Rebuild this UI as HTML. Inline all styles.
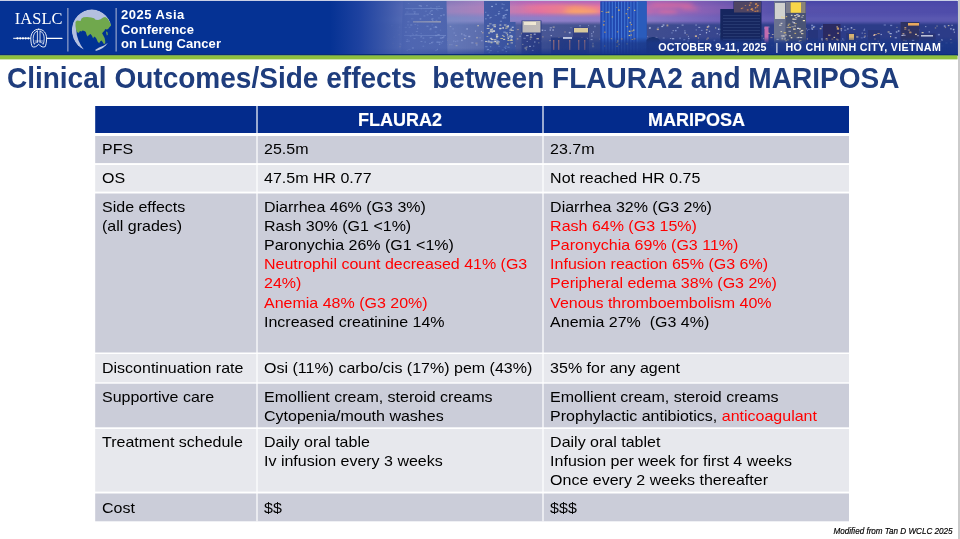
<!DOCTYPE html>
<html><head><meta charset="utf-8">
<style>
html,body{margin:0;padding:0;background:#fff;}
body{width:960px;height:539px;position:relative;overflow:hidden;font-family:"Liberation Sans",Arial,sans-serif;}
.bt{position:absolute;left:121px;font-weight:bold;font-size:13px;line-height:15px;color:#fff;white-space:pre;}
.dt{position:absolute;top:40.6px;font-weight:bold;font-size:10.7px;line-height:13px;color:#fff;white-space:pre;}
#title{position:absolute;left:6.9px;top:61.8px;transform:scaleY(1.05);transform-origin:0 26.5px;font-weight:bold;font-size:28.04px;line-height:34px;color:#1f3d7d;white-space:pre;}
.t{position:absolute;font-size:16px;line-height:19.794px;color:#000;white-space:pre;transform:scaleY(0.97);transform-origin:0 0;}
.h{position:absolute;top:110px;color:#fff;font-weight:bold;font-size:18px;text-align:center;line-height:21px;-webkit-text-stroke:0.2px #fff;}
.r{color:#f00;}
#foot{position:absolute;right:7.3px;top:525.2px;font-size:9.5px;line-height:12px;font-style:italic;color:#000;white-space:pre;transform:scaleX(0.853);transform-origin:100% 0;-webkit-text-stroke:0.2px #000;}
#redge{position:absolute;left:958.3px;top:0;width:1.7px;height:539px;background:#cbcbcb;}
</style></head><body>
<svg width="960" height="60" viewBox="0 0 960 60" style="position:absolute;left:0;top:0">
<defs>
<linearGradient id="gTop" x1="330" x2="958" y1="0" y2="0" gradientUnits="userSpaceOnUse"><stop offset="0.0000" stop-color="#053294"/><stop offset="0.0478" stop-color="#2244a0"/><stop offset="0.1115" stop-color="#4a5eb0"/><stop offset="0.1911" stop-color="#a078b8"/><stop offset="0.2389" stop-color="#b080c0"/><stop offset="0.3025" stop-color="#b868b8"/><stop offset="0.4299" stop-color="#b868b8"/><stop offset="0.5255" stop-color="#9a62b8"/><stop offset="0.6210" stop-color="#7058b0"/><stop offset="0.7006" stop-color="#5550aa"/><stop offset="0.7643" stop-color="#4a48a8"/><stop offset="1.0000" stop-color="#4a48a8"/></linearGradient>
<linearGradient id="gPink" x1="330" x2="958" y1="0" y2="0" gradientUnits="userSpaceOnUse"><stop offset="0.0000" stop-color="#053294"/><stop offset="0.0478" stop-color="#2446a2"/><stop offset="0.1115" stop-color="#5868b4"/><stop offset="0.1911" stop-color="#b888c0"/><stop offset="0.2707" stop-color="#c880b8"/><stop offset="0.3344" stop-color="#e070a0"/><stop offset="0.3901" stop-color="#f08c7c"/><stop offset="0.4299" stop-color="#e878a0"/><stop offset="0.4697" stop-color="#d470a8"/><stop offset="0.5255" stop-color="#a868b4"/><stop offset="0.5892" stop-color="#8a62b6"/><stop offset="0.6290" stop-color="#7a5cb2"/><stop offset="0.7006" stop-color="#5852ac"/><stop offset="1.0000" stop-color="#4e4caa"/></linearGradient>
<linearGradient id="gLil" x1="330" x2="958" y1="0" y2="0" gradientUnits="userSpaceOnUse"><stop offset="0.0000" stop-color="#053294"/><stop offset="0.0478" stop-color="#2648a2"/><stop offset="0.1115" stop-color="#5a70b8"/><stop offset="0.1911" stop-color="#8890c8"/><stop offset="0.3025" stop-color="#9080c8"/><stop offset="0.5096" stop-color="#8878c4"/><stop offset="0.6210" stop-color="#7060b8"/><stop offset="0.7484" stop-color="#5a58b0"/><stop offset="1.0000" stop-color="#5a58b0"/></linearGradient>
<linearGradient id="gCity" x1="330" x2="958" y1="0" y2="0" gradientUnits="userSpaceOnUse"><stop offset="0.0000" stop-color="#053294"/><stop offset="0.0478" stop-color="#2648a2"/><stop offset="0.1115" stop-color="#4c64ae"/><stop offset="0.1911" stop-color="#6074b4"/><stop offset="0.3025" stop-color="#4a5898"/><stop offset="0.4299" stop-color="#44528e"/><stop offset="0.5892" stop-color="#3a4890"/><stop offset="0.7484" stop-color="#2c3c88"/><stop offset="1.0000" stop-color="#2c3c88"/></linearGradient>
<linearGradient id="mPinkG" x1="0" x2="0" y1="0" y2="55" gradientUnits="userSpaceOnUse"><stop offset="0.0364" stop-color="#fff" stop-opacity="0"/><stop offset="0.1273" stop-color="#fff" stop-opacity="1"/><stop offset="0.2364" stop-color="#fff" stop-opacity="1"/><stop offset="0.3273" stop-color="#fff" stop-opacity="0"/></linearGradient>
<linearGradient id="mLilG" x1="0" x2="0" y1="0" y2="55" gradientUnits="userSpaceOnUse"><stop offset="0.2182" stop-color="#fff" stop-opacity="0"/><stop offset="0.3273" stop-color="#fff" stop-opacity="1"/><stop offset="1.0000" stop-color="#fff" stop-opacity="1"/></linearGradient>
<linearGradient id="mCityG" x1="0" x2="0" y1="0" y2="55" gradientUnits="userSpaceOnUse"><stop offset="0.3818" stop-color="#fff" stop-opacity="0"/><stop offset="0.4545" stop-color="#fff" stop-opacity="1"/><stop offset="1.0000" stop-color="#fff" stop-opacity="1"/></linearGradient>
<mask id="mPink" maskUnits="userSpaceOnUse" x="0" y="0" width="960" height="60"><rect x="0" y="0" width="960" height="60" fill="url(#mPinkG)"/></mask>
<mask id="mLil" maskUnits="userSpaceOnUse" x="0" y="0" width="960" height="60"><rect x="0" y="0" width="960" height="60" fill="url(#mLilG)"/></mask>
<mask id="mCity" maskUnits="userSpaceOnUse" x="0" y="0" width="960" height="60"><rect x="0" y="0" width="960" height="60" fill="url(#mCityG)"/></mask>
<linearGradient id="gBandX" x1="480" x2="660" y1="0" y2="0" gradientUnits="userSpaceOnUse"><stop offset="0" stop-color="#fff" stop-opacity="0"/><stop offset="1" stop-color="#fff" stop-opacity="1"/></linearGradient>
<mask id="mBand" maskUnits="userSpaceOnUse" x="0" y="0" width="960" height="60"><rect x="0" y="0" width="960" height="60" fill="url(#gBandX)"/></mask>
<linearGradient id="gBand" x1="0" x2="0" y1="0" y2="55" gradientUnits="userSpaceOnUse"><stop offset="0.6727" stop-color="#1b3888" stop-opacity="0"/><stop offset="0.7818" stop-color="#1b3888" stop-opacity="0.9"/><stop offset="1.0000" stop-color="#183484" stop-opacity="1"/></linearGradient>
<linearGradient id="gBot" x1="0" x2="0" y1="0" y2="55" gradientUnits="userSpaceOnUse"><stop offset="0.8727" stop-color="#16338a" stop-opacity="0"/><stop offset="1.0000" stop-color="#16338a" stop-opacity="0.9"/></linearGradient>
<linearGradient id="fadeL" x1="300" x2="540" y1="0" y2="0" gradientUnits="userSpaceOnUse">
<stop offset="0" stop-color="#053294" stop-opacity="1"/><stop offset="0.125" stop-color="#053294" stop-opacity="1"/><stop offset="0.25" stop-color="#1e42a0" stop-opacity="0.97"/><stop offset="0.36" stop-color="#3c58aa" stop-opacity="0.85"/><stop offset="0.45" stop-color="#566cb6" stop-opacity="0.7"/><stop offset="0.62" stop-color="#6a7cbc" stop-opacity="0.4"/><stop offset="1" stop-color="#6a7cbc" stop-opacity="0"/>
</linearGradient>
<filter id="b0" x="-5%" y="-5%" width="110%" height="110%"><feGaussianBlur stdDeviation="0.35"/></filter>
<filter id="b1" x="-5%" y="-20%" width="110%" height="140%"><feGaussianBlur stdDeviation="0.55"/></filter>
<filter id="b3" x="-20%" y="-50%" width="140%" height="200%"><feGaussianBlur stdDeviation="2"/></filter>
<clipPath id="bc"><rect x="0" y="1" width="957.6" height="54.5"/></clipPath>
</defs>
<rect x="0" y="0" width="957.6" height="1.2" fill="#c9d0e6"/>
<g clip-path="url(#bc)">
<rect x="0" y="1" width="958" height="55" fill="#053294"/>
<rect x="330" y="1" width="628" height="55" fill="url(#gTop)"/>
<rect x="330" y="1" width="628" height="55" fill="url(#gPink)" mask="url(#mPink)"/>
<g filter="url(#b3)"><ellipse cx="582" cy="11.5" rx="18" ry="2.2" fill="#fbaa66"/><ellipse cx="545" cy="8" rx="22" ry="2" fill="#ea7898"/><ellipse cx="672" cy="5" rx="22" ry="1.6" fill="#ec6c98"/><ellipse cx="668" cy="12.5" rx="10" ry="1.3" fill="#ec7098"/><ellipse cx="690" cy="8.5" rx="9" ry="1.1" fill="#e06c9c"/></g>
<rect x="330" y="1" width="628" height="55" fill="url(#gLil)" mask="url(#mLil)"/>
<rect x="330" y="1" width="628" height="55" fill="url(#gCity)" mask="url(#mCity)"/>
<g filter="url(#b1)"><rect x="569.9" y="27.3" width="2.0" height="0.9" fill="#8ea0dc" opacity="0.37"/><rect x="717.8" y="44.0" width="1.5" height="0.9" fill="#e8d8b0" opacity="0.37"/><rect x="436.8" y="33.3" width="1.3" height="1.3" fill="#d0d8f8" opacity="0.21"/><rect x="926.1" y="36.7" width="1.3" height="1.2" fill="#f0c890" opacity="0.37"/><rect x="461.0" y="33.2" width="1.4" height="1.5" fill="#d0d8f8" opacity="0.41"/><rect x="488.2" y="36.8" width="1.1" height="1.4" fill="#8ea0dc" opacity="0.44"/><rect x="707.3" y="37.6" width="1.5" height="1.1" fill="#f0c890" opacity="0.69"/><rect x="719.4" y="34.0" width="1.2" height="1.4" fill="#aebcec" opacity="0.47"/><rect x="431.7" y="30.6" width="1.9" height="1.0" fill="#f0c890" opacity="0.39"/><rect x="944.7" y="26.6" width="1.4" height="1.5" fill="#f0c890" opacity="0.43"/><rect x="625.8" y="45.2" width="1.7" height="1.5" fill="#c8d4f4" opacity="0.73"/><rect x="564.1" y="39.3" width="2.0" height="0.9" fill="#d0d8f8" opacity="0.60"/><rect x="438.4" y="29.9" width="1.1" height="1.4" fill="#8ea0dc" opacity="0.34"/><rect x="754.5" y="45.8" width="1.5" height="1.3" fill="#f0c890" opacity="0.49"/><rect x="397.9" y="34.2" width="1.6" height="1.0" fill="#e8d8b0" opacity="0.33"/><rect x="549.1" y="40.2" width="2.0" height="0.9" fill="#f0c890" opacity="0.55"/><rect x="641.5" y="36.1" width="2.0" height="1.0" fill="#e8d8b0" opacity="0.76"/><rect x="622.1" y="31.9" width="1.2" height="0.9" fill="#f0c890" opacity="0.83"/><rect x="517.4" y="29.1" width="1.2" height="1.0" fill="#f0c890" opacity="0.77"/><rect x="468.2" y="35.8" width="2.1" height="1.4" fill="#d0d8f8" opacity="0.63"/><rect x="679.3" y="37.6" width="1.5" height="1.5" fill="#8ea0dc" opacity="0.72"/><rect x="928.5" y="39.0" width="1.5" height="0.9" fill="#d0d8f8" opacity="0.55"/><rect x="747.2" y="25.4" width="1.5" height="0.9" fill="#c8d4f4" opacity="0.84"/><rect x="728.0" y="26.3" width="1.1" height="1.1" fill="#d0d8f8" opacity="0.43"/><rect x="399.6" y="43.2" width="1.8" height="1.6" fill="#d0d8f8" opacity="0.27"/><rect x="728.9" y="34.4" width="2.2" height="1.2" fill="#c8d4f4" opacity="0.77"/><rect x="661.3" y="25.9" width="1.9" height="1.2" fill="#c8d4f4" opacity="0.72"/><rect x="780.2" y="35.4" width="1.6" height="0.9" fill="#e8d8b0" opacity="0.83"/><rect x="695.2" y="24.6" width="1.8" height="0.9" fill="#d0d8f8" opacity="0.50"/><rect x="867.8" y="35.4" width="1.3" height="1.2" fill="#e8d8b0" opacity="0.53"/><rect x="672.0" y="38.0" width="2.2" height="1.5" fill="#d0d8f8" opacity="0.76"/><rect x="845.3" y="42.0" width="1.2" height="1.2" fill="#8ea0dc" opacity="0.75"/><rect x="802.4" y="45.8" width="1.2" height="1.3" fill="#aebcec" opacity="0.59"/><rect x="581.6" y="41.8" width="2.1" height="1.1" fill="#8ea0dc" opacity="0.84"/><rect x="510.9" y="29.0" width="1.6" height="1.6" fill="#e8d8b0" opacity="0.52"/><rect x="733.5" y="24.0" width="1.8" height="1.5" fill="#8ea0dc" opacity="0.52"/><rect x="453.5" y="32.5" width="1.6" height="0.9" fill="#8ea0dc" opacity="0.73"/><rect x="835.6" y="31.3" width="1.5" height="1.6" fill="#8ea0dc" opacity="0.55"/><rect x="798.9" y="27.7" width="1.7" height="1.2" fill="#e8d8b0" opacity="0.36"/><rect x="759.5" y="37.5" width="1.8" height="1.1" fill="#d0d8f8" opacity="0.84"/><rect x="698.3" y="26.9" width="1.9" height="0.9" fill="#c8d4f4" opacity="0.75"/><rect x="813.0" y="27.1" width="1.3" height="1.0" fill="#e8d8b0" opacity="0.76"/><rect x="552.3" y="29.3" width="1.7" height="1.5" fill="#d0d8f8" opacity="0.51"/><rect x="419.8" y="40.3" width="2.0" height="1.2" fill="#f0c890" opacity="0.34"/><rect x="857.3" y="43.3" width="1.6" height="0.8" fill="#e8d8b0" opacity="0.62"/><rect x="636.3" y="28.0" width="1.2" height="0.9" fill="#c8d4f4" opacity="0.74"/><rect x="738.5" y="26.6" width="1.6" height="1.2" fill="#c8d4f4" opacity="0.51"/><rect x="832.8" y="26.3" width="1.2" height="0.8" fill="#d0d8f8" opacity="0.38"/><rect x="440.8" y="33.9" width="2.1" height="1.2" fill="#c8d4f4" opacity="0.36"/><rect x="734.8" y="35.1" width="1.3" height="1.2" fill="#d0d8f8" opacity="0.45"/><rect x="846.0" y="35.2" width="2.1" height="1.6" fill="#e8d8b0" opacity="0.70"/><rect x="533.2" y="36.3" width="1.2" height="0.9" fill="#e8d8b0" opacity="0.77"/><rect x="637.4" y="25.6" width="1.3" height="1.0" fill="#e8d8b0" opacity="0.56"/><rect x="454.9" y="41.1" width="1.4" height="1.0" fill="#8ea0dc" opacity="0.67"/><rect x="463.4" y="34.3" width="1.5" height="1.2" fill="#8ea0dc" opacity="0.83"/><rect x="950.2" y="42.3" width="2.2" height="1.1" fill="#e8d8b0" opacity="0.70"/><rect x="625.5" y="31.8" width="1.0" height="1.2" fill="#c8d4f4" opacity="0.71"/><rect x="636.5" y="24.4" width="1.4" height="1.6" fill="#aebcec" opacity="0.61"/><rect x="449.4" y="44.2" width="1.1" height="1.0" fill="#e8d8b0" opacity="0.42"/><rect x="407.6" y="41.1" width="2.0" height="1.5" fill="#aebcec" opacity="0.36"/><rect x="771.0" y="44.8" width="2.1" height="1.3" fill="#f0c890" opacity="0.42"/><rect x="784.9" y="26.0" width="1.2" height="1.5" fill="#c8d4f4" opacity="0.75"/><rect x="538.6" y="24.4" width="1.1" height="1.5" fill="#c8d4f4" opacity="0.75"/><rect x="423.0" y="43.0" width="2.2" height="1.1" fill="#f0c890" opacity="0.18"/><rect x="907.7" y="37.7" width="1.3" height="0.9" fill="#c8d4f4" opacity="0.61"/><rect x="477.2" y="25.1" width="1.8" height="1.2" fill="#e8d8b0" opacity="0.82"/><rect x="502.6" y="33.8" width="1.4" height="0.8" fill="#8ea0dc" opacity="0.44"/><rect x="528.0" y="24.3" width="2.2" height="1.2" fill="#8ea0dc" opacity="0.60"/><rect x="525.3" y="33.8" width="1.5" height="1.2" fill="#8ea0dc" opacity="0.76"/><rect x="861.6" y="32.6" width="1.3" height="1.0" fill="#d0d8f8" opacity="0.50"/><rect x="498.4" y="43.4" width="1.5" height="1.1" fill="#8ea0dc" opacity="0.67"/><rect x="416.1" y="26.9" width="2.1" height="1.1" fill="#c8d4f4" opacity="0.33"/><rect x="416.6" y="38.6" width="1.8" height="1.0" fill="#f0c890" opacity="0.39"/><rect x="523.3" y="30.4" width="1.3" height="0.8" fill="#f0c890" opacity="0.44"/><rect x="592.9" y="31.2" width="1.0" height="1.5" fill="#d0d8f8" opacity="0.51"/><rect x="509.4" y="28.0" width="1.6" height="1.2" fill="#aebcec" opacity="0.54"/><rect x="499.8" y="35.1" width="2.0" height="0.9" fill="#c8d4f4" opacity="0.40"/><rect x="720.1" y="32.7" width="1.3" height="1.3" fill="#aebcec" opacity="0.50"/><rect x="687.2" y="40.5" width="1.9" height="1.3" fill="#8ea0dc" opacity="0.80"/><rect x="821.4" y="39.9" width="1.9" height="1.3" fill="#f0c890" opacity="0.42"/><rect x="410.0" y="42.4" width="1.9" height="1.4" fill="#d0d8f8" opacity="0.33"/><rect x="464.5" y="35.5" width="2.0" height="0.8" fill="#d0d8f8" opacity="0.63"/><rect x="777.0" y="41.6" width="1.8" height="1.0" fill="#8ea0dc" opacity="0.69"/><rect x="402.8" y="26.9" width="1.5" height="1.2" fill="#aebcec" opacity="0.41"/><rect x="414.0" y="24.4" width="1.6" height="0.8" fill="#d0d8f8" opacity="0.35"/><rect x="840.5" y="40.5" width="1.1" height="1.2" fill="#d0d8f8" opacity="0.80"/><rect x="810.8" y="34.4" width="1.3" height="1.4" fill="#c8d4f4" opacity="0.77"/><rect x="516.8" y="38.3" width="1.5" height="1.2" fill="#f0c890" opacity="0.60"/><rect x="775.4" y="40.9" width="1.2" height="1.3" fill="#d0d8f8" opacity="0.67"/><rect x="574.4" y="38.3" width="1.7" height="0.8" fill="#8ea0dc" opacity="0.50"/><rect x="419.6" y="29.9" width="1.3" height="1.2" fill="#8ea0dc" opacity="0.20"/><rect x="789.8" y="30.3" width="1.1" height="1.5" fill="#f0c890" opacity="0.58"/><rect x="498.8" y="45.5" width="1.6" height="1.5" fill="#f0c890" opacity="0.36"/><rect x="937.8" y="33.9" width="2.1" height="1.5" fill="#aebcec" opacity="0.54"/><rect x="427.6" y="26.0" width="2.1" height="0.9" fill="#8ea0dc" opacity="0.31"/><rect x="853.3" y="35.2" width="1.3" height="1.5" fill="#c8d4f4" opacity="0.70"/><rect x="662.6" y="24.5" width="1.8" height="1.1" fill="#c8d4f4" opacity="0.82"/><rect x="800.2" y="33.2" width="2.0" height="0.8" fill="#f0c890" opacity="0.51"/><rect x="813.7" y="42.5" width="1.2" height="0.8" fill="#c8d4f4" opacity="0.82"/><rect x="807.5" y="29.6" width="2.2" height="1.3" fill="#c8d4f4" opacity="0.55"/><rect x="591.0" y="33.4" width="1.3" height="0.8" fill="#aebcec" opacity="0.78"/><rect x="763.0" y="38.0" width="1.3" height="1.2" fill="#e8d8b0" opacity="0.47"/><rect x="493.4" y="32.2" width="2.0" height="1.3" fill="#f0c890" opacity="0.79"/><rect x="906.6" y="44.7" width="1.1" height="1.5" fill="#d0d8f8" opacity="0.45"/><rect x="619.6" y="37.5" width="1.3" height="0.8" fill="#e8d8b0" opacity="0.67"/><rect x="914.2" y="26.8" width="1.3" height="1.0" fill="#f0c890" opacity="0.56"/><rect x="806.8" y="38.4" width="1.4" height="1.2" fill="#f0c890" opacity="0.68"/><rect x="610.2" y="27.7" width="1.6" height="1.4" fill="#e8d8b0" opacity="0.39"/><rect x="699.3" y="34.0" width="1.5" height="0.9" fill="#aebcec" opacity="0.85"/><rect x="494.9" y="26.0" width="1.4" height="1.1" fill="#aebcec" opacity="0.63"/><rect x="847.1" y="28.4" width="1.5" height="1.1" fill="#c8d4f4" opacity="0.72"/><rect x="684.3" y="32.3" width="1.6" height="1.3" fill="#aebcec" opacity="0.73"/><rect x="590.6" y="39.1" width="2.0" height="1.0" fill="#d0d8f8" opacity="0.66"/><rect x="539.8" y="29.5" width="1.5" height="1.0" fill="#f0c890" opacity="0.67"/><rect x="850.0" y="45.3" width="1.9" height="1.5" fill="#e8d8b0" opacity="0.37"/><rect x="655.2" y="36.9" width="2.1" height="1.5" fill="#c8d4f4" opacity="0.39"/><rect x="686.4" y="34.3" width="1.1" height="0.9" fill="#f0c890" opacity="0.47"/><rect x="683.3" y="39.0" width="2.0" height="1.5" fill="#8ea0dc" opacity="0.70"/><rect x="433.5" y="41.1" width="1.3" height="1.5" fill="#c8d4f4" opacity="0.37"/><rect x="753.6" y="30.7" width="1.6" height="1.1" fill="#e8d8b0" opacity="0.66"/><rect x="821.2" y="26.2" width="1.7" height="1.1" fill="#aebcec" opacity="0.61"/><rect x="512.7" y="37.2" width="2.2" height="1.0" fill="#c8d4f4" opacity="0.62"/><rect x="565.6" y="42.5" width="1.3" height="1.0" fill="#e8d8b0" opacity="0.59"/><rect x="933.5" y="39.5" width="1.2" height="1.5" fill="#aebcec" opacity="0.38"/><rect x="754.5" y="25.8" width="2.1" height="1.0" fill="#e8d8b0" opacity="0.68"/><rect x="404.5" y="31.4" width="1.5" height="0.8" fill="#f0c890" opacity="0.27"/><rect x="551.8" y="42.6" width="2.2" height="1.0" fill="#c8d4f4" opacity="0.45"/><rect x="853.2" y="29.1" width="2.1" height="0.9" fill="#e8d8b0" opacity="0.48"/><rect x="741.1" y="37.4" width="2.1" height="0.8" fill="#e8d8b0" opacity="0.59"/><rect x="724.6" y="44.3" width="2.2" height="0.9" fill="#c8d4f4" opacity="0.46"/><rect x="414.6" y="25.3" width="1.9" height="1.1" fill="#f0c890" opacity="0.29"/><rect x="449.6" y="25.7" width="1.2" height="1.5" fill="#e8d8b0" opacity="0.26"/><rect x="811.1" y="24.7" width="2.0" height="1.6" fill="#8ea0dc" opacity="0.71"/><rect x="637.6" y="26.4" width="1.4" height="1.6" fill="#c8d4f4" opacity="0.49"/><rect x="455.6" y="45.2" width="1.9" height="1.0" fill="#e8d8b0" opacity="0.54"/><rect x="844.0" y="25.9" width="1.4" height="1.5" fill="#8ea0dc" opacity="0.59"/><rect x="495.2" y="32.0" width="1.5" height="1.4" fill="#f0c890" opacity="0.37"/><rect x="822.8" y="24.9" width="2.0" height="0.8" fill="#c8d4f4" opacity="0.58"/><rect x="496.3" y="25.4" width="1.3" height="1.6" fill="#d0d8f8" opacity="0.52"/><rect x="737.3" y="29.8" width="2.1" height="1.0" fill="#8ea0dc" opacity="0.69"/><rect x="797.0" y="37.1" width="1.1" height="1.5" fill="#8ea0dc" opacity="0.82"/><rect x="446.2" y="39.7" width="1.5" height="1.0" fill="#f0c890" opacity="0.41"/><rect x="630.5" y="34.9" width="2.0" height="1.4" fill="#f0c890" opacity="0.44"/><rect x="854.8" y="41.0" width="2.0" height="1.2" fill="#d0d8f8" opacity="0.47"/><rect x="832.6" y="37.1" width="1.9" height="1.0" fill="#d0d8f8" opacity="0.45"/><rect x="422.0" y="24.7" width="1.2" height="1.1" fill="#d0d8f8" opacity="0.31"/><rect x="445.1" y="25.6" width="1.1" height="1.2" fill="#d0d8f8" opacity="0.20"/><rect x="790.3" y="33.8" width="1.6" height="1.5" fill="#e8d8b0" opacity="0.42"/><rect x="519.1" y="35.8" width="1.9" height="1.0" fill="#8ea0dc" opacity="0.73"/><rect x="544.5" y="29.9" width="1.2" height="1.0" fill="#aebcec" opacity="0.72"/><rect x="525.1" y="27.4" width="1.1" height="1.0" fill="#d0d8f8" opacity="0.44"/><rect x="525.4" y="35.6" width="1.8" height="1.6" fill="#8ea0dc" opacity="0.75"/><rect x="443.4" y="34.4" width="2.1" height="0.8" fill="#e8d8b0" opacity="0.39"/><rect x="552.7" y="26.6" width="2.0" height="1.0" fill="#e8d8b0" opacity="0.65"/><rect x="427.9" y="35.3" width="1.3" height="1.4" fill="#e8d8b0" opacity="0.29"/><rect x="925.0" y="26.3" width="1.4" height="0.8" fill="#d0d8f8" opacity="0.70"/><rect x="579.1" y="25.0" width="1.9" height="1.5" fill="#aebcec" opacity="0.37"/><rect x="850.2" y="42.0" width="1.2" height="1.0" fill="#f0c890" opacity="0.69"/><rect x="501.1" y="41.5" width="1.5" height="1.4" fill="#d0d8f8" opacity="0.59"/><rect x="764.2" y="27.4" width="1.2" height="1.4" fill="#d0d8f8" opacity="0.40"/><rect x="619.0" y="30.2" width="1.1" height="1.4" fill="#aebcec" opacity="0.56"/><rect x="889.6" y="33.1" width="2.2" height="1.1" fill="#c8d4f4" opacity="0.78"/><rect x="497.6" y="40.0" width="1.5" height="0.9" fill="#e8d8b0" opacity="0.82"/><rect x="449.8" y="26.0" width="1.6" height="0.9" fill="#d0d8f8" opacity="0.40"/><rect x="393.5" y="36.1" width="1.5" height="1.3" fill="#8ea0dc" opacity="0.38"/><rect x="914.4" y="40.2" width="1.3" height="1.2" fill="#e8d8b0" opacity="0.42"/><rect x="913.5" y="26.4" width="2.0" height="1.4" fill="#f0c890" opacity="0.73"/><rect x="557.2" y="42.4" width="1.6" height="0.8" fill="#c8d4f4" opacity="0.84"/><rect x="913.8" y="32.5" width="2.0" height="0.9" fill="#8ea0dc" opacity="0.66"/><rect x="833.7" y="28.9" width="1.2" height="1.2" fill="#f0c890" opacity="0.66"/><rect x="707.9" y="24.9" width="1.4" height="0.9" fill="#d0d8f8" opacity="0.43"/><rect x="939.3" y="41.9" width="1.7" height="1.4" fill="#e8d8b0" opacity="0.37"/><rect x="406.8" y="42.4" width="1.5" height="1.5" fill="#c8d4f4" opacity="0.27"/><rect x="829.3" y="38.3" width="1.5" height="1.3" fill="#aebcec" opacity="0.64"/><rect x="640.1" y="33.6" width="2.2" height="1.2" fill="#c8d4f4" opacity="0.35"/><rect x="640.1" y="37.6" width="2.0" height="1.1" fill="#f0c890" opacity="0.77"/><rect x="423.3" y="31.9" width="1.5" height="1.2" fill="#aebcec" opacity="0.20"/><rect x="408.3" y="38.0" width="1.4" height="1.4" fill="#c8d4f4" opacity="0.41"/><rect x="430.7" y="40.5" width="1.9" height="0.8" fill="#f0c890" opacity="0.34"/><rect x="422.9" y="37.5" width="1.2" height="1.6" fill="#8ea0dc" opacity="0.38"/><rect x="665.9" y="45.0" width="1.9" height="1.0" fill="#e8d8b0" opacity="0.69"/><rect x="860.7" y="37.4" width="2.1" height="1.0" fill="#aebcec" opacity="0.43"/><rect x="850.7" y="27.2" width="1.6" height="1.3" fill="#d0d8f8" opacity="0.83"/><rect x="736.7" y="29.2" width="1.2" height="0.9" fill="#aebcec" opacity="0.37"/><rect x="919.7" y="39.0" width="1.9" height="0.9" fill="#f0c890" opacity="0.43"/><rect x="688.0" y="38.0" width="1.5" height="1.2" fill="#aebcec" opacity="0.83"/><rect x="778.3" y="43.7" width="1.8" height="1.1" fill="#aebcec" opacity="0.85"/><rect x="840.5" y="29.8" width="1.4" height="1.4" fill="#aebcec" opacity="0.64"/><rect x="637.5" y="27.9" width="1.4" height="1.2" fill="#8ea0dc" opacity="0.83"/><rect x="562.1" y="45.3" width="2.1" height="1.4" fill="#d0d8f8" opacity="0.81"/><rect x="811.6" y="28.9" width="1.5" height="1.2" fill="#aebcec" opacity="0.66"/><rect x="896.4" y="26.9" width="1.1" height="0.8" fill="#e8d8b0" opacity="0.66"/><rect x="708.8" y="30.7" width="1.3" height="1.3" fill="#d0d8f8" opacity="0.53"/><rect x="721.4" y="28.5" width="1.2" height="0.8" fill="#d0d8f8" opacity="0.76"/><rect x="842.7" y="39.6" width="1.8" height="1.5" fill="#f0c890" opacity="0.40"/><rect x="831.6" y="32.8" width="1.1" height="1.5" fill="#aebcec" opacity="0.83"/><rect x="894.7" y="37.1" width="2.1" height="1.4" fill="#d0d8f8" opacity="0.57"/><rect x="526.9" y="43.9" width="1.0" height="0.9" fill="#c8d4f4" opacity="0.38"/><rect x="475.9" y="44.1" width="1.7" height="1.6" fill="#c8d4f4" opacity="0.36"/><rect x="466.2" y="28.4" width="1.8" height="1.1" fill="#d0d8f8" opacity="0.67"/><rect x="735.1" y="35.2" width="1.1" height="1.5" fill="#c8d4f4" opacity="0.50"/><rect x="832.1" y="39.7" width="1.5" height="1.5" fill="#c8d4f4" opacity="0.54"/><rect x="431.0" y="38.4" width="1.1" height="1.0" fill="#e8d8b0" opacity="0.23"/><rect x="407.2" y="31.4" width="2.1" height="1.0" fill="#8ea0dc" opacity="0.41"/><rect x="415.0" y="38.0" width="1.9" height="1.2" fill="#8ea0dc" opacity="0.28"/><rect x="536.5" y="38.1" width="1.6" height="0.9" fill="#e8d8b0" opacity="0.39"/><rect x="901.6" y="42.5" width="1.9" height="1.1" fill="#e8d8b0" opacity="0.82"/><rect x="887.6" y="31.2" width="2.0" height="1.5" fill="#e8d8b0" opacity="0.54"/><rect x="945.5" y="42.5" width="2.0" height="1.4" fill="#d0d8f8" opacity="0.58"/><rect x="874.6" y="33.6" width="2.1" height="1.4" fill="#8ea0dc" opacity="0.47"/><rect x="608.6" y="36.9" width="1.2" height="0.8" fill="#d0d8f8" opacity="0.81"/><rect x="445.9" y="44.4" width="1.8" height="0.8" fill="#aebcec" opacity="0.42"/><rect x="464.0" y="38.2" width="1.9" height="0.9" fill="#c8d4f4" opacity="0.70"/><rect x="722.2" y="32.0" width="1.1" height="1.5" fill="#d0d8f8" opacity="0.80"/><rect x="907.1" y="44.8" width="1.2" height="0.8" fill="#c8d4f4" opacity="0.47"/><rect x="927.0" y="44.0" width="1.9" height="1.3" fill="#8ea0dc" opacity="0.39"/><rect x="657.4" y="26.9" width="1.4" height="1.1" fill="#8ea0dc" opacity="0.45"/><rect x="396.9" y="29.6" width="1.9" height="1.5" fill="#aebcec" opacity="0.19"/><rect x="824.2" y="37.2" width="1.7" height="0.8" fill="#f0c890" opacity="0.78"/><rect x="620.8" y="33.6" width="1.8" height="1.2" fill="#c8d4f4" opacity="0.52"/><rect x="508.7" y="43.0" width="1.3" height="1.1" fill="#c8d4f4" opacity="0.64"/><rect x="684.0" y="30.3" width="1.6" height="1.2" fill="#c8d4f4" opacity="0.35"/><rect x="840.0" y="28.1" width="2.1" height="1.2" fill="#f0c890" opacity="0.65"/><rect x="715.0" y="27.5" width="1.3" height="0.9" fill="#e8d8b0" opacity="0.82"/><rect x="921.0" y="40.9" width="1.8" height="1.4" fill="#f0c890" opacity="0.74"/><rect x="743.5" y="31.8" width="2.1" height="1.4" fill="#f0c890" opacity="0.81"/><rect x="626.0" y="38.2" width="1.3" height="1.5" fill="#aebcec" opacity="0.45"/><rect x="671.2" y="32.3" width="1.6" height="1.2" fill="#8ea0dc" opacity="0.47"/><rect x="815.8" y="40.6" width="1.7" height="1.2" fill="#8ea0dc" opacity="0.37"/><rect x="880.6" y="33.9" width="1.2" height="1.2" fill="#d0d8f8" opacity="0.72"/><rect x="826.6" y="36.7" width="1.8" height="1.4" fill="#e8d8b0" opacity="0.52"/><rect x="674.9" y="29.9" width="1.7" height="1.4" fill="#8ea0dc" opacity="0.76"/><rect x="941.6" y="39.9" width="1.2" height="1.1" fill="#d0d8f8" opacity="0.61"/><rect x="493.1" y="45.5" width="1.2" height="1.3" fill="#8ea0dc" opacity="0.85"/><rect x="496.6" y="27.3" width="1.9" height="1.1" fill="#e8d8b0" opacity="0.75"/><rect x="497.0" y="38.0" width="2.1" height="1.2" fill="#c8d4f4" opacity="0.49"/><rect x="392.2" y="42.8" width="1.6" height="1.3" fill="#f0c890" opacity="0.35"/><rect x="649.5" y="27.1" width="1.0" height="1.0" fill="#d0d8f8" opacity="0.72"/><rect x="872.0" y="39.4" width="1.5" height="1.0" fill="#d0d8f8" opacity="0.72"/><rect x="797.4" y="43.4" width="2.0" height="1.3" fill="#8ea0dc" opacity="0.70"/><rect x="751.3" y="34.0" width="1.8" height="1.5" fill="#aebcec" opacity="0.48"/><rect x="523.4" y="32.8" width="1.3" height="1.1" fill="#8ea0dc" opacity="0.66"/><rect x="644.9" y="37.7" width="1.8" height="1.5" fill="#f0c890" opacity="0.61"/><rect x="895.8" y="31.2" width="1.6" height="1.6" fill="#c8d4f4" opacity="0.54"/><rect x="406.8" y="36.0" width="2.1" height="1.0" fill="#e8d8b0" opacity="0.35"/><rect x="583.8" y="42.6" width="1.9" height="1.2" fill="#f0c890" opacity="0.62"/><rect x="750.0" y="42.2" width="1.9" height="1.2" fill="#d0d8f8" opacity="0.52"/><rect x="950.4" y="28.0" width="1.1" height="1.6" fill="#d0d8f8" opacity="0.73"/><rect x="588.0" y="25.2" width="1.1" height="0.9" fill="#aebcec" opacity="0.54"/><rect x="907.7" y="37.8" width="1.3" height="1.0" fill="#8ea0dc" opacity="0.53"/><rect x="808.4" y="44.7" width="2.2" height="1.6" fill="#d0d8f8" opacity="0.84"/><rect x="648.9" y="27.6" width="1.8" height="1.2" fill="#c8d4f4" opacity="0.75"/><rect x="705.9" y="29.0" width="1.8" height="1.5" fill="#e8d8b0" opacity="0.53"/><rect x="851.0" y="34.3" width="1.8" height="1.4" fill="#aebcec" opacity="0.73"/><rect x="653.0" y="41.2" width="1.5" height="1.0" fill="#e8d8b0" opacity="0.48"/><rect x="628.3" y="28.1" width="2.0" height="1.1" fill="#c8d4f4" opacity="0.75"/><rect x="758.7" y="31.0" width="1.8" height="1.3" fill="#f0c890" opacity="0.56"/><rect x="591.9" y="44.4" width="2.0" height="1.5" fill="#f0c890" opacity="0.38"/><rect x="832.7" y="27.1" width="1.0" height="0.8" fill="#aebcec" opacity="0.67"/><rect x="928.5" y="38.4" width="1.7" height="1.5" fill="#aebcec" opacity="0.65"/><rect x="491.0" y="33.9" width="1.5" height="1.2" fill="#e8d8b0" opacity="0.45"/><rect x="733.0" y="39.1" width="2.1" height="1.4" fill="#c8d4f4" opacity="0.68"/><rect x="864.0" y="28.3" width="1.1" height="1.5" fill="#8ea0dc" opacity="0.46"/><rect x="768.3" y="26.6" width="1.3" height="0.9" fill="#c8d4f4" opacity="0.48"/><rect x="666.5" y="25.3" width="1.8" height="1.0" fill="#f0c890" opacity="0.80"/><rect x="479.0" y="37.2" width="2.0" height="1.2" fill="#8ea0dc" opacity="0.35"/><rect x="706.2" y="38.6" width="1.5" height="1.6" fill="#f0c890" opacity="0.54"/><rect x="428.1" y="38.0" width="1.0" height="0.8" fill="#8ea0dc" opacity="0.34"/><rect x="805.6" y="46.0" width="1.6" height="1.5" fill="#c8d4f4" opacity="0.61"/><rect x="404.4" y="39.8" width="1.1" height="1.3" fill="#8ea0dc" opacity="0.21"/><rect x="579.9" y="41.1" width="1.3" height="1.1" fill="#d0d8f8" opacity="0.74"/><rect x="626.2" y="36.2" width="2.0" height="1.1" fill="#aebcec" opacity="0.50"/><rect x="672.6" y="30.0" width="1.2" height="1.2" fill="#d0d8f8" opacity="0.52"/><rect x="452.3" y="28.2" width="1.7" height="1.3" fill="#8ea0dc" opacity="0.50"/><rect x="832.8" y="24.9" width="1.5" height="1.3" fill="#8ea0dc" opacity="0.63"/><rect x="612.5" y="26.4" width="2.1" height="1.3" fill="#c8d4f4" opacity="0.44"/><rect x="760.7" y="41.4" width="1.7" height="1.3" fill="#d0d8f8" opacity="0.66"/><rect x="782.6" y="37.1" width="1.0" height="1.3" fill="#8ea0dc" opacity="0.39"/><rect x="742.0" y="27.8" width="1.0" height="1.4" fill="#8ea0dc" opacity="0.44"/><rect x="906.9" y="38.4" width="1.2" height="1.0" fill="#aebcec" opacity="0.79"/><rect x="790.5" y="43.0" width="1.4" height="1.1" fill="#e8d8b0" opacity="0.56"/><rect x="751.4" y="44.5" width="1.6" height="1.5" fill="#c8d4f4" opacity="0.60"/><rect x="826.8" y="33.3" width="1.5" height="0.8" fill="#8ea0dc" opacity="0.81"/><rect x="606.1" y="37.0" width="1.6" height="1.1" fill="#8ea0dc" opacity="0.84"/><rect x="443.3" y="38.2" width="1.8" height="1.1" fill="#e8d8b0" opacity="0.40"/><rect x="390.3" y="38.7" width="1.1" height="1.2" fill="#c8d4f4" opacity="0.23"/><rect x="542.3" y="36.5" width="1.2" height="0.8" fill="#f0c890" opacity="0.72"/><rect x="827.0" y="39.7" width="1.1" height="1.3" fill="#e8d8b0" opacity="0.71"/><rect x="790.0" y="34.1" width="1.1" height="0.8" fill="#aebcec" opacity="0.81"/><rect x="419.6" y="43.4" width="1.1" height="1.0" fill="#8ea0dc" opacity="0.38"/><rect x="801.5" y="27.7" width="1.4" height="1.6" fill="#f0c890" opacity="0.65"/><rect x="800.6" y="34.3" width="2.0" height="1.1" fill="#e8d8b0" opacity="0.42"/><rect x="753.2" y="37.9" width="1.9" height="1.2" fill="#f0c890" opacity="0.59"/><rect x="540.3" y="40.6" width="1.1" height="1.6" fill="#aebcec" opacity="0.50"/><rect x="786.6" y="42.2" width="1.9" height="0.8" fill="#aebcec" opacity="0.78"/><rect x="471.3" y="42.3" width="2.1" height="1.1" fill="#d0d8f8" opacity="0.56"/><rect x="776.0" y="37.2" width="1.3" height="0.8" fill="#e8d8b0" opacity="0.75"/><rect x="535.2" y="33.3" width="1.9" height="1.4" fill="#d0d8f8" opacity="0.81"/><rect x="549.7" y="27.1" width="2.2" height="1.4" fill="#d0d8f8" opacity="0.42"/><rect x="697.8" y="41.1" width="1.1" height="1.2" fill="#f0c890" opacity="0.52"/><rect x="840.3" y="28.4" width="1.3" height="1.3" fill="#8ea0dc" opacity="0.82"/><rect x="771.9" y="34.2" width="1.7" height="0.8" fill="#e8d8b0" opacity="0.81"/><rect x="604.8" y="35.9" width="1.9" height="1.0" fill="#d0d8f8" opacity="0.75"/><rect x="715.9" y="43.7" width="1.6" height="1.0" fill="#d0d8f8" opacity="0.51"/><rect x="506.4" y="26.0" width="1.7" height="1.1" fill="#8ea0dc" opacity="0.49"/><rect x="830.2" y="42.9" width="2.2" height="1.1" fill="#e8d8b0" opacity="0.37"/><rect x="445.6" y="37.9" width="1.7" height="1.1" fill="#c8d4f4" opacity="0.21"/><rect x="681.6" y="24.5" width="2.0" height="1.3" fill="#c8d4f4" opacity="0.45"/><rect x="720.0" y="28.7" width="2.1" height="1.4" fill="#aebcec" opacity="0.56"/><rect x="852.6" y="45.2" width="1.4" height="1.6" fill="#aebcec" opacity="0.77"/><rect x="601.0" y="24.6" width="2.0" height="1.2" fill="#c8d4f4" opacity="0.63"/><rect x="925.9" y="44.0" width="1.8" height="1.5" fill="#c8d4f4" opacity="0.78"/><rect x="788.3" y="26.0" width="1.8" height="1.6" fill="#aebcec" opacity="0.63"/><rect x="767.4" y="32.6" width="1.4" height="1.0" fill="#f0c890" opacity="0.77"/><rect x="796.5" y="27.8" width="1.1" height="1.2" fill="#aebcec" opacity="0.82"/><rect x="400.9" y="44.2" width="1.9" height="1.3" fill="#aebcec" opacity="0.37"/><rect x="947.7" y="25.2" width="1.0" height="1.0" fill="#e8d8b0" opacity="0.51"/><rect x="812.2" y="37.0" width="1.1" height="1.1" fill="#f0c890" opacity="0.73"/><rect x="531.8" y="26.7" width="1.5" height="1.4" fill="#f0c890" opacity="0.54"/><rect x="907.1" y="43.6" width="1.2" height="0.8" fill="#f0c890" opacity="0.71"/><rect x="914.7" y="28.9" width="2.1" height="0.9" fill="#d0d8f8" opacity="0.78"/><rect x="640.4" y="26.1" width="1.8" height="1.2" fill="#f0c890" opacity="0.77"/><rect x="579.0" y="42.1" width="1.4" height="1.1" fill="#f0c890" opacity="0.41"/><rect x="805.3" y="28.0" width="1.2" height="1.5" fill="#f0c890" opacity="0.63"/><rect x="537.1" y="33.1" width="1.7" height="1.0" fill="#e8d8b0" opacity="0.36"/><rect x="844.2" y="29.7" width="2.1" height="0.9" fill="#c8d4f4" opacity="0.51"/><rect x="943.8" y="25.3" width="1.7" height="1.5" fill="#8ea0dc" opacity="0.81"/><rect x="453.1" y="40.6" width="1.3" height="1.0" fill="#aebcec" opacity="0.57"/><rect x="521.0" y="32.6" width="1.1" height="1.4" fill="#f0c890" opacity="0.80"/><rect x="552.6" y="45.5" width="1.6" height="1.2" fill="#c8d4f4" opacity="0.57"/><rect x="638.0" y="41.4" width="1.4" height="0.8" fill="#d0d8f8" opacity="0.49"/><rect x="618.5" y="30.1" width="1.2" height="1.4" fill="#e8d8b0" opacity="0.42"/><rect x="791.3" y="28.3" width="2.1" height="1.4" fill="#c8d4f4" opacity="0.76"/><rect x="819.7" y="27.9" width="1.8" height="1.4" fill="#e8d8b0" opacity="0.66"/><rect x="717.9" y="28.5" width="1.6" height="1.5" fill="#c8d4f4" opacity="0.70"/><rect x="908.2" y="35.4" width="2.0" height="1.5" fill="#aebcec" opacity="0.52"/><rect x="666.5" y="24.3" width="1.8" height="1.0" fill="#f0c890" opacity="0.42"/><rect x="706.5" y="45.7" width="1.4" height="1.3" fill="#c8d4f4" opacity="0.43"/><rect x="387.6" y="35.4" width="1.1" height="1.1" fill="#f0c890" opacity="0.42"/><rect x="524.7" y="42.3" width="2.0" height="1.3" fill="#aebcec" opacity="0.74"/><rect x="897.8" y="30.4" width="1.6" height="1.2" fill="#c8d4f4" opacity="0.83"/><rect x="687.9" y="35.8" width="1.1" height="1.3" fill="#c8d4f4" opacity="0.47"/><rect x="480.9" y="30.9" width="1.0" height="0.9" fill="#d0d8f8" opacity="0.76"/><rect x="784.1" y="28.3" width="1.8" height="1.2" fill="#c8d4f4" opacity="0.77"/><rect x="521.1" y="33.8" width="1.9" height="0.8" fill="#aebcec" opacity="0.78"/><rect x="455.3" y="34.9" width="1.1" height="0.9" fill="#d0d8f8" opacity="0.73"/><rect x="890.0" y="35.9" width="1.2" height="1.3" fill="#e8d8b0" opacity="0.78"/><rect x="811.3" y="27.6" width="1.5" height="1.1" fill="#c8d4f4" opacity="0.82"/><rect x="864.5" y="35.6" width="1.1" height="1.1" fill="#f0c890" opacity="0.84"/><rect x="613.8" y="42.4" width="2.2" height="1.4" fill="#8ea0dc" opacity="0.57"/><rect x="906.2" y="41.9" width="1.6" height="1.6" fill="#d0d8f8" opacity="0.38"/><rect x="918.5" y="29.5" width="1.0" height="0.9" fill="#f0c890" opacity="0.68"/><rect x="492.1" y="31.1" width="1.0" height="0.9" fill="#e8d8b0" opacity="0.60"/><rect x="938.7" y="41.1" width="2.0" height="1.5" fill="#f0c890" opacity="0.67"/><rect x="890.1" y="24.8" width="2.1" height="1.3" fill="#8ea0dc" opacity="0.66"/><rect x="743.7" y="41.7" width="1.3" height="1.2" fill="#c8d4f4" opacity="0.66"/><rect x="632.6" y="44.9" width="1.4" height="0.9" fill="#aebcec" opacity="0.41"/><rect x="419.5" y="45.1" width="1.1" height="1.3" fill="#d0d8f8" opacity="0.40"/><rect x="917.1" y="33.7" width="1.4" height="1.1" fill="#d0d8f8" opacity="0.42"/><rect x="549.6" y="29.4" width="1.3" height="1.2" fill="#c8d4f4" opacity="0.72"/><rect x="781.8" y="28.9" width="1.9" height="1.2" fill="#f0c890" opacity="0.45"/><rect x="697.9" y="37.5" width="1.0" height="1.1" fill="#f0c890" opacity="0.76"/><rect x="492.8" y="36.0" width="2.1" height="0.9" fill="#d0d8f8" opacity="0.55"/><rect x="928.6" y="31.1" width="1.3" height="1.6" fill="#aebcec" opacity="0.60"/><rect x="553.7" y="41.0" width="1.7" height="1.1" fill="#e8d8b0" opacity="0.63"/><rect x="760.6" y="35.4" width="1.9" height="1.2" fill="#f0c890" opacity="0.53"/><rect x="949.9" y="38.9" width="1.8" height="0.9" fill="#e8d8b0" opacity="0.56"/><rect x="500.6" y="37.4" width="1.6" height="1.4" fill="#aebcec" opacity="0.76"/><rect x="809.4" y="40.7" width="1.8" height="1.3" fill="#f0c890" opacity="0.48"/><rect x="786.7" y="33.1" width="1.9" height="1.3" fill="#c8d4f4" opacity="0.35"/><rect x="669.3" y="45.2" width="2.0" height="1.0" fill="#d0d8f8" opacity="0.42"/><rect x="739.8" y="26.4" width="1.3" height="1.1" fill="#f0c890" opacity="0.70"/><rect x="586.5" y="35.6" width="1.4" height="1.4" fill="#d0d8f8" opacity="0.54"/><rect x="870.1" y="35.0" width="1.6" height="1.4" fill="#f0c890" opacity="0.50"/><rect x="633.8" y="32.3" width="2.1" height="1.1" fill="#e8d8b0" opacity="0.39"/><rect x="866.6" y="42.4" width="1.5" height="1.5" fill="#aebcec" opacity="0.45"/><rect x="391.1" y="25.0" width="1.4" height="1.2" fill="#d0d8f8" opacity="0.40"/><rect x="563.4" y="37.6" width="1.6" height="1.3" fill="#f0c890" opacity="0.61"/><rect x="607.4" y="31.9" width="1.5" height="0.8" fill="#d0d8f8" opacity="0.69"/><rect x="424.0" y="29.0" width="1.5" height="1.2" fill="#f0c890" opacity="0.27"/><rect x="712.8" y="43.4" width="1.5" height="1.3" fill="#f0c890" opacity="0.59"/><rect x="953.8" y="31.6" width="1.1" height="1.1" fill="#d0d8f8" opacity="0.72"/><rect x="594.4" y="25.7" width="1.1" height="1.5" fill="#aebcec" opacity="0.61"/><rect x="778.9" y="42.1" width="1.5" height="0.9" fill="#d0d8f8" opacity="0.79"/><rect x="550.5" y="35.3" width="1.5" height="0.8" fill="#d0d8f8" opacity="0.80"/><rect x="707.6" y="26.3" width="1.8" height="0.8" fill="#d0d8f8" opacity="0.85"/><rect x="619.9" y="41.3" width="1.7" height="1.5" fill="#aebcec" opacity="0.71"/><rect x="612.0" y="26.2" width="1.2" height="1.2" fill="#c8d4f4" opacity="0.68"/><rect x="700.9" y="29.9" width="1.6" height="0.9" fill="#8ea0dc" opacity="0.80"/><rect x="498.4" y="37.2" width="1.9" height="0.9" fill="#e8d8b0" opacity="0.43"/><rect x="442.2" y="27.8" width="1.6" height="1.1" fill="#d0d8f8" opacity="0.30"/><rect x="842.0" y="38.3" width="1.4" height="1.4" fill="#8ea0dc" opacity="0.74"/><rect x="587.0" y="27.7" width="2.0" height="1.6" fill="#aebcec" opacity="0.66"/><rect x="421.0" y="28.2" width="1.1" height="1.5" fill="#d0d8f8" opacity="0.27"/><rect x="717.7" y="45.1" width="1.3" height="1.0" fill="#f0c890" opacity="0.38"/><rect x="476.0" y="36.9" width="2.1" height="1.5" fill="#e8d8b0" opacity="0.51"/><rect x="558.4" y="37.3" width="1.1" height="1.3" fill="#f0c890" opacity="0.84"/><rect x="770.4" y="36.9" width="2.1" height="1.2" fill="#f0c890" opacity="0.50"/><rect x="837.7" y="29.4" width="1.5" height="0.8" fill="#e8d8b0" opacity="0.43"/><rect x="888.8" y="32.7" width="1.6" height="1.1" fill="#aebcec" opacity="0.41"/><rect x="615.2" y="25.4" width="2.1" height="1.2" fill="#c8d4f4" opacity="0.56"/><rect x="606.2" y="34.3" width="1.0" height="1.3" fill="#aebcec" opacity="0.47"/><rect x="580.0" y="27.4" width="1.2" height="1.2" fill="#8ea0dc" opacity="0.41"/><rect x="834.6" y="36.2" width="2.0" height="0.9" fill="#f0c890" opacity="0.77"/><rect x="586.5" y="39.9" width="1.7" height="1.0" fill="#f0c890" opacity="0.66"/><rect x="656.8" y="28.5" width="2.1" height="1.6" fill="#f0c890" opacity="0.69"/><rect x="725.3" y="33.7" width="1.5" height="1.2" fill="#aebcec" opacity="0.62"/><rect x="456.7" y="40.5" width="1.7" height="1.0" fill="#8ea0dc" opacity="0.61"/><rect x="825.7" y="32.5" width="1.2" height="0.8" fill="#8ea0dc" opacity="0.71"/><rect x="790.8" y="39.3" width="1.8" height="0.9" fill="#e8d8b0" opacity="0.51"/><rect x="705.9" y="32.0" width="1.2" height="1.4" fill="#d0d8f8" opacity="0.73"/><rect x="435.2" y="30.3" width="1.4" height="1.5" fill="#8ea0dc" opacity="0.27"/><rect x="650.2" y="37.8" width="1.2" height="1.0" fill="#8ea0dc" opacity="0.78"/><rect x="401.9" y="39.0" width="2.1" height="0.8" fill="#8ea0dc" opacity="0.35"/><rect x="786.9" y="34.2" width="1.8" height="0.9" fill="#f0c890" opacity="0.53"/><rect x="450.8" y="44.1" width="1.8" height="1.1" fill="#8ea0dc" opacity="0.46"/><rect x="732.5" y="33.5" width="1.9" height="1.2" fill="#aebcec" opacity="0.43"/><rect x="744.4" y="44.7" width="1.7" height="1.4" fill="#d0d8f8" opacity="0.77"/><rect x="530.4" y="33.6" width="2.1" height="0.9" fill="#8ea0dc" opacity="0.64"/><rect x="821.1" y="38.4" width="1.7" height="1.4" fill="#c8d4f4" opacity="0.79"/><rect x="941.2" y="39.0" width="1.3" height="1.5" fill="#c8d4f4" opacity="0.75"/><rect x="813.0" y="25.9" width="2.2" height="1.3" fill="#8ea0dc" opacity="0.72"/><rect x="511.1" y="35.6" width="1.5" height="1.5" fill="#aebcec" opacity="0.82"/><rect x="779.9" y="40.2" width="1.6" height="1.3" fill="#8ea0dc" opacity="0.66"/><rect x="502.6" y="38.8" width="1.2" height="1.6" fill="#e8d8b0" opacity="0.59"/><rect x="856.2" y="36.3" width="2.2" height="1.3" fill="#e8d8b0" opacity="0.62"/><rect x="695.6" y="29.5" width="1.4" height="0.9" fill="#c8d4f4" opacity="0.43"/><rect x="748.4" y="27.0" width="1.8" height="1.0" fill="#8ea0dc" opacity="0.70"/><rect x="523.0" y="35.3" width="1.8" height="1.4" fill="#f0c890" opacity="0.42"/><rect x="461.2" y="39.6" width="1.4" height="1.5" fill="#d0d8f8" opacity="0.63"/><rect x="698.1" y="40.7" width="1.2" height="1.6" fill="#e8d8b0" opacity="0.69"/><rect x="864.3" y="32.9" width="1.3" height="1.1" fill="#e8d8b0" opacity="0.41"/><rect x="502.9" y="25.3" width="1.1" height="1.0" fill="#aebcec" opacity="0.50"/><rect x="934.8" y="27.5" width="1.4" height="0.9" fill="#f0c890" opacity="0.58"/><rect x="426.0" y="24.2" width="1.9" height="1.6" fill="#f0c890" opacity="0.20"/><rect x="706.8" y="26.4" width="1.6" height="1.4" fill="#f0c890" opacity="0.83"/><rect x="568.8" y="31.9" width="1.8" height="1.5" fill="#c8d4f4" opacity="0.67"/><rect x="757.6" y="29.5" width="1.9" height="0.8" fill="#e8d8b0" opacity="0.39"/><rect x="610.7" y="27.2" width="1.8" height="1.5" fill="#aebcec" opacity="0.44"/><rect x="914.1" y="27.7" width="1.9" height="1.1" fill="#8ea0dc" opacity="0.77"/><rect x="490.4" y="42.2" width="1.2" height="1.5" fill="#aebcec" opacity="0.47"/><rect x="863.4" y="29.6" width="1.7" height="1.3" fill="#c8d4f4" opacity="0.37"/><rect x="853.1" y="39.5" width="1.6" height="1.2" fill="#c8d4f4" opacity="0.82"/><rect x="474.9" y="30.6" width="1.2" height="1.0" fill="#d0d8f8" opacity="0.66"/><rect x="464.0" y="38.0" width="1.0" height="1.2" fill="#f0c890" opacity="0.39"/><rect x="494.0" y="39.9" width="1.7" height="1.5" fill="#c8d4f4" opacity="0.37"/><rect x="676.9" y="27.1" width="1.6" height="1.1" fill="#c8d4f4" opacity="0.68"/><rect x="578.4" y="33.7" width="1.2" height="1.4" fill="#8ea0dc" opacity="0.83"/><rect x="601.3" y="24.1" width="1.7" height="1.2" fill="#d0d8f8" opacity="0.69"/><rect x="694.9" y="35.4" width="2.1" height="1.5" fill="#f0c890" opacity="0.84"/><rect x="941.4" y="45.2" width="2.0" height="1.4" fill="#d0d8f8" opacity="0.39"/><rect x="574.3" y="38.5" width="2.1" height="1.2" fill="#d0d8f8" opacity="0.64"/><rect x="754.6" y="30.6" width="1.8" height="1.5" fill="#aebcec" opacity="0.62"/><rect x="512.0" y="40.3" width="1.8" height="1.1" fill="#8ea0dc" opacity="0.39"/><rect x="716.6" y="33.2" width="1.5" height="1.0" fill="#d0d8f8" opacity="0.47"/><rect x="514.8" y="45.3" width="1.1" height="1.5" fill="#e8d8b0" opacity="0.62"/><rect x="529.7" y="26.1" width="1.9" height="1.0" fill="#d0d8f8" opacity="0.69"/><rect x="646.6" y="35.9" width="1.6" height="1.3" fill="#8ea0dc" opacity="0.41"/><rect x="430.8" y="33.0" width="1.2" height="1.2" fill="#c8d4f4" opacity="0.38"/><rect x="674.6" y="42.4" width="2.2" height="1.2" fill="#c8d4f4" opacity="0.66"/><rect x="647.7" y="39.1" width="2.2" height="1.3" fill="#d0d8f8" opacity="0.44"/><rect x="827.5" y="27.0" width="1.3" height="1.1" fill="#d0d8f8" opacity="0.38"/><rect x="393.7" y="37.1" width="1.1" height="0.9" fill="#e8d8b0" opacity="0.29"/><rect x="903.8" y="25.9" width="2.1" height="1.5" fill="#e8d8b0" opacity="0.63"/><rect x="480.9" y="40.4" width="1.9" height="0.8" fill="#aebcec" opacity="0.75"/><rect x="531.0" y="29.3" width="2.1" height="1.4" fill="#d0d8f8" opacity="0.72"/><rect x="409.8" y="37.3" width="1.4" height="1.3" fill="#c8d4f4" opacity="0.26"/><rect x="404.5" y="44.0" width="1.2" height="1.2" fill="#e8d8b0" opacity="0.24"/><rect x="863.6" y="36.8" width="1.6" height="0.9" fill="#c8d4f4" opacity="0.75"/><rect x="532.6" y="27.3" width="1.8" height="1.5" fill="#aebcec" opacity="0.79"/><rect x="720.9" y="29.5" width="1.3" height="1.2" fill="#8ea0dc" opacity="0.73"/><rect x="399.1" y="45.9" width="2.0" height="1.4" fill="#f0c890" opacity="0.30"/><rect x="405.2" y="28.0" width="1.5" height="1.2" fill="#8ea0dc" opacity="0.34"/><rect x="475.4" y="42.6" width="2.1" height="1.2" fill="#f0c890" opacity="0.46"/><rect x="591.1" y="35.6" width="1.7" height="0.8" fill="#aebcec" opacity="0.80"/><rect x="481.9" y="31.9" width="1.6" height="1.5" fill="#f0c890" opacity="0.52"/><rect x="564.5" y="31.4" width="1.0" height="1.2" fill="#f0c890" opacity="0.52"/><rect x="948.2" y="25.0" width="1.2" height="1.1" fill="#e8d8b0" opacity="0.71"/><rect x="421.2" y="45.8" width="1.6" height="1.6" fill="#aebcec" opacity="0.32"/><rect x="951.5" y="24.8" width="1.1" height="1.0" fill="#d0d8f8" opacity="0.80"/><rect x="628.4" y="36.6" width="1.3" height="1.4" fill="#c8d4f4" opacity="0.53"/><rect x="883.4" y="44.7" width="2.2" height="1.1" fill="#8ea0dc" opacity="0.39"/><rect x="592.1" y="42.8" width="1.7" height="1.1" fill="#e8d8b0" opacity="0.53"/><rect x="419.5" y="31.4" width="1.9" height="1.2" fill="#aebcec" opacity="0.40"/><rect x="895.6" y="41.8" width="1.2" height="1.5" fill="#aebcec" opacity="0.43"/><rect x="768.4" y="32.9" width="1.4" height="0.9" fill="#f0c890" opacity="0.63"/><rect x="422.9" y="30.6" width="1.7" height="1.3" fill="#aebcec" opacity="0.24"/><rect x="936.5" y="25.6" width="1.1" height="0.9" fill="#e8d8b0" opacity="0.64"/><rect x="716.5" y="45.7" width="1.8" height="1.4" fill="#aebcec" opacity="0.84"/><rect x="911.4" y="42.4" width="1.3" height="1.0" fill="#aebcec" opacity="0.80"/><rect x="398.2" y="27.6" width="1.0" height="0.8" fill="#aebcec" opacity="0.23"/><rect x="640.8" y="43.6" width="1.8" height="1.0" fill="#aebcec" opacity="0.78"/><rect x="804.1" y="45.2" width="1.1" height="1.5" fill="#d0d8f8" opacity="0.37"/><rect x="713.6" y="39.8" width="1.6" height="1.5" fill="#c8d4f4" opacity="0.44"/><rect x="750.4" y="44.3" width="2.0" height="0.8" fill="#e8d8b0" opacity="0.51"/><rect x="662.7" y="37.4" width="2.0" height="1.4" fill="#aebcec" opacity="0.44"/><rect x="434.8" y="37.5" width="1.5" height="1.6" fill="#f0c890" opacity="0.42"/><rect x="883.7" y="24.6" width="2.2" height="0.8" fill="#aebcec" opacity="0.63"/><rect x="735.6" y="39.9" width="1.0" height="1.0" fill="#aebcec" opacity="0.43"/><rect x="687.3" y="42.5" width="1.5" height="1.2" fill="#aebcec" opacity="0.76"/><rect x="721.0" y="36.2" width="1.7" height="1.0" fill="#8ea0dc" opacity="0.84"/><rect x="738.3" y="41.9" width="1.9" height="1.0" fill="#f0c890" opacity="0.73"/><rect x="826.2" y="45.5" width="1.4" height="1.2" fill="#f0c890" opacity="0.63"/><rect x="541.4" y="29.6" width="1.8" height="1.4" fill="#d0d8f8" opacity="0.59"/><rect x="592.0" y="45.8" width="2.2" height="1.5" fill="#e8d8b0" opacity="0.55"/><rect x="741.7" y="26.7" width="1.7" height="0.9" fill="#d0d8f8" opacity="0.60"/><rect x="921.6" y="32.0" width="2.0" height="1.5" fill="#e8d8b0" opacity="0.80"/><rect x="829.9" y="35.6" width="1.3" height="1.6" fill="#aebcec" opacity="0.74"/><rect x="669.9" y="38.0" width="1.5" height="1.0" fill="#aebcec" opacity="0.80"/><rect x="836.0" y="24.6" width="1.1" height="1.3" fill="#8ea0dc" opacity="0.72"/><rect x="614.5" y="43.0" width="1.5" height="1.5" fill="#c8d4f4" opacity="0.46"/><rect x="599.4" y="38.5" width="1.0" height="1.4" fill="#e8d8b0" opacity="0.37"/><rect x="523.1" y="31.8" width="1.8" height="1.0" fill="#aebcec" opacity="0.73"/><rect x="952.8" y="28.8" width="1.6" height="1.5" fill="#d0d8f8" opacity="0.75"/><rect x="824.2" y="45.0" width="1.3" height="1.1" fill="#e8d8b0" opacity="0.76"/><rect x="662.2" y="43.6" width="1.7" height="1.6" fill="#e8d8b0" opacity="0.51"/><rect x="506.1" y="25.1" width="1.9" height="0.8" fill="#e8d8b0" opacity="0.78"/><rect x="826.9" y="33.7" width="2.2" height="1.0" fill="#f0c890" opacity="0.78"/><rect x="398.9" y="26.5" width="1.4" height="1.2" fill="#c8d4f4" opacity="0.21"/><rect x="585.8" y="40.5" width="1.1" height="1.1" fill="#f0c890" opacity="0.69"/></g>
<g filter="url(#b1)"><rect x="386" y="24" width="13" height="31" fill="#465ea8" opacity="0.6"/><polygon points="403,1 446.5,1 447.5,55 401,55" fill="#3a56a6"/><rect x="439.8" y="37.4" width="2.3" height="1.3" fill="#8fa8e0" opacity="0.69"/><rect x="411.9" y="33.1" width="1.2" height="0.9" fill="#7d98d8" opacity="0.52"/><rect x="420.8" y="8.0" width="1.2" height="1.3" fill="#a8bcec" opacity="0.43"/><rect x="408.3" y="48.9" width="2.4" height="1.1" fill="#8fa8e0" opacity="0.49"/><rect x="430.7" y="10.1" width="2.1" height="1.1" fill="#8fa8e0" opacity="0.66"/><rect x="436.7" y="48.9" width="1.3" height="1.3" fill="#8fa8e0" opacity="0.77"/><rect x="414.6" y="11.5" width="1.5" height="0.8" fill="#8fa8e0" opacity="0.5"/><rect x="405.9" y="40.9" width="2.3" height="0.9" fill="#a8bcec" opacity="0.74"/><rect x="429.5" y="29.1" width="1.9" height="1.1" fill="#7d98d8" opacity="0.76"/><rect x="419.6" y="18.3" width="1.7" height="1.3" fill="#a8bcec" opacity="0.78"/><rect x="438.4" y="41.6" width="2.3" height="1.1" fill="#8fa8e0" opacity="0.7"/><rect x="440.1" y="15.2" width="1.9" height="1.0" fill="#8fa8e0" opacity="0.81"/><rect x="429.9" y="7.2" width="1.9" height="0.8" fill="#7d98d8" opacity="0.42"/><rect x="431.1" y="18.6" width="2.0" height="1.1" fill="#a8bcec" opacity="0.63"/><rect x="426.5" y="25.7" width="2.0" height="1.0" fill="#a8bcec" opacity="0.7"/><rect x="442.8" y="14.3" width="2.0" height="1.2" fill="#a8bcec" opacity="0.58"/><rect x="406.5" y="49.8" width="1.5" height="1.1" fill="#a8bcec" opacity="0.44"/><rect x="435.1" y="34.9" width="2.3" height="1.2" fill="#a8bcec" opacity="0.85"/><rect x="422.5" y="37.6" width="1.8" height="1.0" fill="#8fa8e0" opacity="0.9"/><rect x="406.6" y="39.3" width="1.6" height="0.9" fill="#8fa8e0" opacity="0.81"/><rect x="413.3" y="11.3" width="2.2" height="1.0" fill="#7d98d8" opacity="0.87"/><rect x="437.4" y="34.3" width="2.3" height="1.0" fill="#a8bcec" opacity="0.82"/><rect x="435.9" y="8.9" width="1.4" height="0.9" fill="#8fa8e0" opacity="0.58"/><rect x="429.9" y="28.1" width="1.6" height="1.1" fill="#a8bcec" opacity="0.6"/><rect x="442.9" y="36.4" width="1.7" height="1.0" fill="#8fa8e0" opacity="0.78"/><rect x="409.8" y="35.6" width="1.6" height="1.1" fill="#8fa8e0" opacity="0.71"/><rect x="424.4" y="41.5" width="1.5" height="1.1" fill="#8fa8e0" opacity="0.69"/><rect x="406.3" y="11.6" width="2.1" height="0.9" fill="#a8bcec" opacity="0.53"/><rect x="414.4" y="24.0" width="1.8" height="1.0" fill="#8fa8e0" opacity="0.5"/><rect x="420.5" y="41.0" width="1.9" height="1.0" fill="#8fa8e0" opacity="0.76"/><rect x="418.7" y="5.0" width="2.1" height="1.3" fill="#a8bcec" opacity="0.72"/><rect x="435.6" y="19.9" width="1.7" height="1.1" fill="#7d98d8" opacity="0.5"/><rect x="441.9" y="37.2" width="1.6" height="1.1" fill="#a8bcec" opacity="0.83"/><rect x="407.1" y="24.4" width="1.7" height="1.0" fill="#7d98d8" opacity="0.78"/><rect x="405.0" y="31.5" width="1.8" height="1.0" fill="#a8bcec" opacity="0.61"/><rect x="422.5" y="45.7" width="1.7" height="1.0" fill="#7d98d8" opacity="0.78"/><rect x="404.4" y="14.2" width="1.4" height="1.1" fill="#7d98d8" opacity="0.55"/><rect x="416.9" y="21.6" width="1.8" height="0.8" fill="#8fa8e0" opacity="0.69"/><rect x="404.6" y="26.9" width="2.2" height="0.9" fill="#a8bcec" opacity="0.43"/><rect x="430.6" y="37.1" width="1.8" height="0.8" fill="#7d98d8" opacity="0.77"/><rect x="436.9" y="9.7" width="1.7" height="0.8" fill="#7d98d8" opacity="0.47"/><rect x="417.0" y="27.9" width="1.2" height="1.3" fill="#a8bcec" opacity="0.66"/><rect x="407.4" y="21.4" width="2.0" height="0.9" fill="#a8bcec" opacity="0.66"/><rect x="420.4" y="5.5" width="1.6" height="1.2" fill="#a8bcec" opacity="0.83"/><rect x="414.0" y="12.7" width="1.3" height="1.1" fill="#a8bcec" opacity="0.87"/><rect x="429.6" y="37.1" width="1.4" height="1.3" fill="#a8bcec" opacity="0.5"/><rect x="439.9" y="29.7" width="1.3" height="1.0" fill="#7d98d8" opacity="0.43"/><rect x="441.1" y="42.5" width="1.2" height="0.9" fill="#a8bcec" opacity="0.55"/><rect x="431.7" y="41.5" width="1.9" height="1.0" fill="#7d98d8" opacity="0.62"/><rect x="438.2" y="5.8" width="1.7" height="1.1" fill="#8fa8e0" opacity="0.47"/><rect x="438.3" y="42.1" width="1.8" height="0.8" fill="#7d98d8" opacity="0.68"/><rect x="435.2" y="26.9" width="2.0" height="1.1" fill="#a8bcec" opacity="0.8"/><rect x="424.8" y="10.6" width="2.1" height="1.2" fill="#7d98d8" opacity="0.45"/><rect x="407.7" y="40.6" width="2.3" height="1.0" fill="#7d98d8" opacity="0.82"/><rect x="431.5" y="24.2" width="1.7" height="1.2" fill="#7d98d8" opacity="0.47"/><rect x="410.2" y="24.4" width="2.1" height="1.2" fill="#a8bcec" opacity="0.75"/><rect x="432.1" y="17.9" width="1.5" height="1.1" fill="#8fa8e0" opacity="0.48"/><rect x="435.2" y="50.0" width="1.7" height="0.8" fill="#a8bcec" opacity="0.48"/><rect x="415.4" y="34.4" width="2.0" height="0.9" fill="#8fa8e0" opacity="0.76"/><rect x="420.8" y="35.6" width="1.3" height="1.2" fill="#8fa8e0" opacity="0.73"/><rect x="412.2" y="34.5" width="1.8" height="0.8" fill="#a8bcec" opacity="0.57"/><rect x="433.3" y="26.8" width="2.3" height="0.8" fill="#a8bcec" opacity="0.54"/><rect x="415.8" y="31.0" width="2.1" height="0.9" fill="#a8bcec" opacity="0.54"/><rect x="438.8" y="43.6" width="1.5" height="1.3" fill="#8fa8e0" opacity="0.69"/><rect x="407.9" y="3.1" width="1.4" height="0.9" fill="#a8bcec" opacity="0.43"/><rect x="417.0" y="24.6" width="1.5" height="1.2" fill="#8fa8e0" opacity="0.45"/><rect x="436.4" y="41.8" width="2.1" height="1.0" fill="#7d98d8" opacity="0.68"/><rect x="434.7" y="31.6" width="1.8" height="0.8" fill="#7d98d8" opacity="0.69"/><rect x="420.1" y="36.4" width="1.7" height="1.2" fill="#8fa8e0" opacity="0.59"/><rect x="429.9" y="10.9" width="1.4" height="1.3" fill="#a8bcec" opacity="0.4"/><rect x="429.1" y="43.2" width="1.6" height="0.9" fill="#8fa8e0" opacity="0.84"/><rect x="408.6" y="26.8" width="1.8" height="0.9" fill="#a8bcec" opacity="0.52"/><rect x="426.2" y="5.0" width="1.5" height="1.3" fill="#a8bcec" opacity="0.6"/><rect x="411.9" y="9.1" width="1.5" height="1.2" fill="#7d98d8" opacity="0.52"/><rect x="407.7" y="8.1" width="1.3" height="1.2" fill="#7d98d8" opacity="0.69"/><rect x="430.9" y="14.0" width="2.1" height="0.9" fill="#a8bcec" opacity="0.9"/><rect x="420.5" y="33.0" width="1.3" height="1.1" fill="#8fa8e0" opacity="0.44"/><rect x="426.6" y="14.2" width="1.9" height="1.2" fill="#7d98d8" opacity="0.81"/><rect x="436.0" y="6.5" width="1.6" height="0.8" fill="#8fa8e0" opacity="0.71"/><rect x="431.0" y="42.1" width="1.6" height="1.2" fill="#a8bcec" opacity="0.7"/><rect x="411.1" y="18.2" width="2.3" height="1.2" fill="#8fa8e0" opacity="0.44"/><rect x="413.5" y="38.2" width="2.0" height="0.9" fill="#a8bcec" opacity="0.79"/><rect x="411.9" y="47.4" width="2.0" height="1.2" fill="#8fa8e0" opacity="0.9"/><rect x="434.9" y="26.0" width="1.8" height="1.2" fill="#8fa8e0" opacity="0.78"/><rect x="428.8" y="12.6" width="2.0" height="1.2" fill="#a8bcec" opacity="0.45"/><rect x="432.0" y="19.8" width="1.4" height="1.3" fill="#7d98d8" opacity="0.79"/><rect x="423.4" y="15.4" width="2.0" height="1.0" fill="#8fa8e0" opacity="0.77"/><rect x="436.5" y="41.5" width="1.9" height="1.0" fill="#7d98d8" opacity="0.79"/><rect x="438.0" y="17.4" width="2.4" height="1.1" fill="#7d98d8" opacity="0.46"/><rect x="441.8" y="40.8" width="1.5" height="1.2" fill="#8fa8e0" opacity="0.52"/><rect x="413" y="21" width="28" height="1.6" fill="#c4bcae" opacity="0.9"/><rect x="405" y="8" width="38" height="1" fill="#7c98d8" opacity="0.8"/><rect x="405" y="13.5" width="14" height="1.2" fill="#8ca4dc" opacity="0.8"/><rect x="404" y="35" width="42" height="1" fill="#7c98d8" opacity="0.7"/><rect x="484" y="1" width="26" height="54" fill="#34509e"/><rect x="509.5" y="22" width="6" height="33" fill="#3a54a0"/><rect x="497.9" y="13.1" width="2.3" height="1.1" fill="#8fa8e0" opacity="0.6"/><rect x="502.2" y="17.3" width="2.0" height="1.3" fill="#a8bcec" opacity="0.6"/><rect x="486.9" y="14.7" width="2.2" height="1.0" fill="#a8bcec" opacity="0.8"/><rect x="485.1" y="11.8" width="1.2" height="0.9" fill="#a8bcec" opacity="0.61"/><rect x="498.3" y="11.2" width="1.6" height="0.9" fill="#a8bcec" opacity="0.6"/><rect x="495.3" y="3.6" width="1.6" height="1.3" fill="#8fa8e0" opacity="0.75"/><rect x="494.7" y="14.9" width="2.2" height="0.9" fill="#8fa8e0" opacity="0.59"/><rect x="504.7" y="10.0" width="1.6" height="0.9" fill="#8fa8e0" opacity="0.51"/><rect x="504.6" y="14.0" width="2.3" height="1.0" fill="#a8bcec" opacity="0.56"/><rect x="504.3" y="17.2" width="1.9" height="1.2" fill="#8fa8e0" opacity="0.6"/><rect x="485.2" y="18.4" width="1.3" height="0.9" fill="#a8bcec" opacity="0.77"/><rect x="499.9" y="20.7" width="2.1" height="1.2" fill="#a8bcec" opacity="0.47"/><rect x="501.6" y="7.6" width="1.7" height="1.1" fill="#a8bcec" opacity="0.62"/><rect x="506.1" y="9.5" width="2.0" height="1.1" fill="#a8bcec" opacity="0.87"/><rect x="502.8" y="4.1" width="2.0" height="1.0" fill="#8fa8e0" opacity="0.43"/><rect x="503.4" y="15.3" width="1.9" height="1.0" fill="#8fa8e0" opacity="0.76"/><rect x="501.5" y="3.6" width="1.6" height="0.9" fill="#a8bcec" opacity="0.47"/><rect x="497.9" y="13.4" width="1.3" height="1.0" fill="#a8bcec" opacity="0.71"/><rect x="490.3" y="16.9" width="1.2" height="1.1" fill="#a8bcec" opacity="0.72"/><rect x="502.7" y="15.2" width="1.7" height="1.3" fill="#a8bcec" opacity="0.75"/><rect x="491.1" y="5.9" width="1.9" height="1.2" fill="#a8bcec" opacity="0.85"/><rect x="489.4" y="17.5" width="1.3" height="1.0" fill="#8fa8e0" opacity="0.74"/><rect x="509.5" y="35.3" width="2.8" height="1.2" fill="#d0dcf4" opacity="0.98"/><rect x="490.1" y="29.5" width="2.7" height="0.9" fill="#d0dcf4" opacity="0.97"/><rect x="495.9" y="37.3" width="1.9" height="1.0" fill="#fff4d0" opacity="0.71"/><rect x="490.5" y="42.1" width="2.0" height="1.2" fill="#e8d890" opacity="0.91"/><rect x="493.5" y="26.2" width="2.5" height="1.0" fill="#fff4d0" opacity="0.9"/><rect x="492.4" y="30.6" width="2.7" height="1.1" fill="#d0dcf4" opacity="0.94"/><rect x="488.3" y="32.4" width="1.4" height="1.1" fill="#d0dcf4" opacity="0.74"/><rect x="510.4" y="28.6" width="1.7" height="0.8" fill="#f0e8c8" opacity="0.9"/><rect x="503.3" y="31.7" width="2.5" height="0.9" fill="#d0dcf4" opacity="0.67"/><rect x="489.8" y="38.2" width="2.4" height="0.9" fill="#fff4d0" opacity="0.76"/><rect x="510.4" y="38.6" width="1.9" height="1.0" fill="#d0dcf4" opacity="0.74"/><rect x="490.0" y="41.3" width="2.1" height="1.1" fill="#d0dcf4" opacity="0.65"/><rect x="494.1" y="24.4" width="2.0" height="1.1" fill="#e8d890" opacity="0.83"/><rect x="495.9" y="35.0" width="1.8" height="1.2" fill="#e8d890" opacity="0.66"/><rect x="503.1" y="38.8" width="2.1" height="1.2" fill="#f0e8c8" opacity="0.9"/><rect x="507.2" y="36.6" width="2.6" height="0.9" fill="#fff4d0" opacity="0.84"/><rect x="492.4" y="24.4" width="2.2" height="1.2" fill="#d0dcf4" opacity="0.84"/><rect x="509.4" y="29.5" width="1.9" height="1.1" fill="#f0e8c8" opacity="0.74"/><rect x="503.9" y="24.5" width="2.6" height="1.0" fill="#f0e8c8" opacity="0.78"/><rect x="505.6" y="32.4" width="2.1" height="1.3" fill="#f0e8c8" opacity="0.62"/><rect x="507.3" y="25.3" width="1.7" height="1.1" fill="#d0dcf4" opacity="0.99"/><rect x="499.3" y="27.8" width="2.2" height="1.2" fill="#d0dcf4" opacity="0.94"/><rect x="506.8" y="34.3" width="1.4" height="1.2" fill="#f0e8c8" opacity="0.92"/><rect x="492.2" y="30.9" width="2.7" height="0.9" fill="#f0e8c8" opacity="0.83"/><rect x="495.8" y="33.8" width="2.2" height="0.9" fill="#f0e8c8" opacity="0.92"/><rect x="511.0" y="29.9" width="2.8" height="0.8" fill="#fff4d0" opacity="0.83"/><rect x="496.6" y="43.4" width="2.6" height="1.1" fill="#e8d890" opacity="0.74"/><rect x="490.1" y="31.5" width="1.8" height="0.9" fill="#f0e8c8" opacity="0.78"/><rect x="490.3" y="37.8" width="1.7" height="0.9" fill="#d0dcf4" opacity="0.9"/><rect x="510.6" y="42.3" width="2.4" height="1.2" fill="#f0e8c8" opacity="0.74"/><rect x="496.3" y="40.5" width="2.3" height="1.2" fill="#d0dcf4" opacity="0.82"/><rect x="501.9" y="34.9" width="1.8" height="1.0" fill="#f0e8c8" opacity="0.62"/><rect x="489.7" y="30.5" width="2.7" height="1.2" fill="#fff4d0" opacity="0.91"/><rect x="494.3" y="41.0" width="1.9" height="1.2" fill="#fff4d0"/><rect x="509.6" y="39.7" width="2.1" height="1.2" fill="#e8d890" opacity="0.94"/><rect x="499.3" y="28.3" width="1.9" height="1.0" fill="#f0e8c8" opacity="0.98"/><rect x="490.2" y="28.8" width="2.5" height="1.1" fill="#fff4d0" opacity="0.66"/><rect x="509.2" y="32.2" width="1.6" height="0.9" fill="#fff4d0" opacity="0.61"/><rect x="507.0" y="43.4" width="1.5" height="1.2" fill="#e8d890" opacity="0.96"/><rect x="499.4" y="24.5" width="1.9" height="1.1" fill="#fff4d0" opacity="0.79"/><rect x="502.3" y="27.3" width="1.7" height="1.3" fill="#fff4d0" opacity="0.95"/><rect x="487.6" y="41.4" width="2.7" height="1.0" fill="#fff4d0" opacity="0.9"/><rect x="500.4" y="38.1" width="2.6" height="0.9" fill="#e8d890" opacity="0.89"/><rect x="497.7" y="41.5" width="2.2" height="0.9" fill="#fff4d0" opacity="0.84"/><rect x="486.7" y="28.0" width="2.8" height="0.9" fill="#fff4d0" opacity="0.83"/><rect x="505.1" y="27.7" width="2.4" height="1.1" fill="#e8d890" opacity="0.64"/><rect x="511.4" y="39.9" width="1.5" height="0.8" fill="#e8d890" opacity="0.98"/><rect x="510.9" y="39.3" width="1.5" height="1.1" fill="#fff4d0" opacity="0.71"/><rect x="489.1" y="23.4" width="2.5" height="0.9" fill="#f0e8c8" opacity="0.67"/><rect x="506.8" y="26.4" width="2.1" height="0.9" fill="#fff4d0" opacity="0.97"/><rect x="485.1" y="40.9" width="2.2" height="1.2" fill="#f0e8c8" opacity="0.88"/><rect x="502.9" y="35.9" width="2.0" height="1.1" fill="#e8d890" opacity="0.61"/><rect x="507.4" y="40.0" width="2.0" height="0.9" fill="#e8d890" opacity="0.87"/><rect x="511.5" y="35.9" width="1.5" height="1.1" fill="#f0e8c8" opacity="0.64"/><rect x="491.5" y="41.5" width="2.8" height="0.8" fill="#d0dcf4" opacity="0.72"/><rect x="505.6" y="26.1" width="2.2" height="1.3" fill="#e8d890" opacity="0.6"/><rect x="487.0" y="25.4" width="2.4" height="1.1" fill="#fff4d0" opacity="0.78"/><rect x="496.0" y="35.8" width="2.3" height="1.3" fill="#f0e8c8" opacity="0.97"/><rect x="507.6" y="38.1" width="1.4" height="1.1" fill="#fff4d0" opacity="0.92"/><rect x="486.5" y="36.0" width="1.8" height="0.9" fill="#e8d890" opacity="0.7"/><rect x="493.1" y="30.3" width="1.9" height="0.8" fill="#fff4d0" opacity="0.67"/><rect x="510.6" y="36.8" width="2.1" height="1.1" fill="#d0dcf4" opacity="0.71"/><rect x="491.7" y="31.7" width="1.4" height="0.9" fill="#d0dcf4" opacity="0.97"/><rect x="493.9" y="39.2" width="2.5" height="1.2" fill="#f0e8c8" opacity="0.81"/><rect x="487.8" y="40.3" width="1.8" height="1.1" fill="#d0dcf4" opacity="0.63"/><rect x="488.3" y="32.6" width="1.7" height="0.8" fill="#e8d890" opacity="0.98"/><rect x="496.0" y="42.2" width="2.4" height="1.3" fill="#f0e8c8" opacity="0.86"/><rect x="490.9" y="38.9" width="2.6" height="1.2" fill="#fff4d0" opacity="0.89"/><rect x="511.7" y="26.7" width="2.0" height="1.1" fill="#d0dcf4" opacity="0.9"/><rect x="491.7" y="28.4" width="1.4" height="1.1" fill="#e8d890" opacity="0.86"/><rect x="501.7" y="49.6" width="2.1" height="0.9" fill="#8fa8e0" opacity="0.7"/><rect x="503.8" y="47.1" width="1.3" height="0.8" fill="#8fa8e0" opacity="0.44"/><rect x="487.0" y="48.9" width="2.1" height="1.1" fill="#8fa8e0" opacity="0.86"/><rect x="497.2" y="51.3" width="1.5" height="1.0" fill="#8fa8e0" opacity="0.62"/><rect x="504.7" y="45.7" width="2.3" height="1.0" fill="#8fa8e0" opacity="0.42"/><rect x="507.4" y="46.6" width="2.2" height="1.2" fill="#8fa8e0" opacity="0.54"/><rect x="485.3" y="46.3" width="2.3" height="0.9" fill="#8fa8e0" opacity="0.73"/><rect x="489.9" y="46.0" width="1.3" height="1.3" fill="#8fa8e0" opacity="0.53"/><rect x="487.4" y="49.1" width="1.3" height="0.9" fill="#8fa8e0" opacity="0.83"/><rect x="488.5" y="51.7" width="1.6" height="1.2" fill="#8fa8e0" opacity="0.58"/><rect x="504.9" y="47.6" width="1.4" height="1.1" fill="#8fa8e0" opacity="0.85"/><rect x="489.5" y="50.3" width="2.3" height="0.8" fill="#8fa8e0" opacity="0.84"/><rect x="505.6" y="51.0" width="1.5" height="1.2" fill="#8fa8e0" opacity="0.83"/><rect x="486.4" y="49.6" width="2.2" height="0.9" fill="#8fa8e0" opacity="0.64"/><rect x="498.2" y="45.8" width="1.9" height="1.0" fill="#8fa8e0" opacity="0.46"/><rect x="521.5" y="20.5" width="20" height="35" fill="#2e3e84"/><rect x="522.5" y="21" width="18" height="11.5" fill="#d8d0c0" opacity="0.85"/><rect x="524" y="22" width="12" height="3" fill="#f4ecd4"/><rect x="530.2" y="36.1" width="1.5" height="1.0" fill="#c8d0f0" opacity="0.5"/><rect x="526.5" y="41.0" width="1.5" height="1.0" fill="#c8d0f0" opacity="0.44"/><rect x="525.8" y="46.4" width="1.9" height="1.2" fill="#e8d8b0" opacity="0.46"/><rect x="538.0" y="42.4" width="1.5" height="0.9" fill="#e8d8b0" opacity="0.51"/><rect x="523.4" y="37.8" width="2.3" height="1.0" fill="#c8d0f0" opacity="0.44"/><rect x="529.7" y="38.7" width="1.4" height="1.1" fill="#e8d8b0" opacity="0.43"/><rect x="534.0" y="41.5" width="1.5" height="1.1" fill="#c8d0f0" opacity="0.72"/><rect x="533.7" y="33.6" width="2.0" height="1.2" fill="#c8d0f0" opacity="0.73"/><rect x="524.5" y="47.5" width="2.3" height="1.2" fill="#e8d8b0" opacity="0.73"/><rect x="533.1" y="45.6" width="1.2" height="1.0" fill="#c8d0f0" opacity="0.62"/><rect x="536.5" y="38.1" width="2.4" height="1.2" fill="#e8d8b0" opacity="0.77"/><rect x="531.9" y="49.9" width="1.7" height="1.1" fill="#c8d0f0" opacity="0.58"/><rect x="530.2" y="34.2" width="1.6" height="1.2" fill="#e8d8b0" opacity="0.74"/><rect x="525.6" y="49.3" width="1.4" height="1.0" fill="#e8d8b0" opacity="0.9"/><rect x="529.8" y="37.1" width="2.4" height="1.0" fill="#e8d8b0" opacity="0.49"/><rect x="529.0" y="45.8" width="1.9" height="1.2" fill="#c8d0f0" opacity="0.81"/><rect x="522.0" y="43.9" width="1.5" height="1.0" fill="#e8d8b0" opacity="0.47"/><rect x="526.1" y="35.2" width="2.4" height="0.9" fill="#c8d0f0" opacity="0.9"/><rect x="573" y="27.5" width="16" height="28" fill="#303f84"/><rect x="574" y="28" width="14" height="4.5" fill="#ecd9a0" opacity="0.9"/><rect x="575.6" y="38.8" width="2.1" height="0.9" fill="#e8d8b0" opacity="0.48"/><rect x="581.0" y="41.1" width="1.7" height="1.2" fill="#c8d0f0" opacity="0.83"/><rect x="585.5" y="37.8" width="2.3" height="1.0" fill="#c8d0f0" opacity="0.62"/><rect x="583.8" y="50.4" width="2.3" height="0.8" fill="#c8d0f0" opacity="0.84"/><rect x="579.0" y="42.5" width="2.2" height="1.2" fill="#c8d0f0" opacity="0.62"/><rect x="580.0" y="42.5" width="2.0" height="1.0" fill="#c8d0f0" opacity="0.62"/><rect x="581.1" y="37.6" width="1.7" height="1.2" fill="#e8d8b0" opacity="0.72"/><rect x="578.9" y="50.2" width="1.5" height="1.2" fill="#c8d0f0" opacity="0.71"/><rect x="579.7" y="45.1" width="2.2" height="0.8" fill="#e8d8b0" opacity="0.57"/><rect x="583.1" y="50.2" width="2.3" height="1.0" fill="#e8d8b0" opacity="0.79"/><rect x="576.8" y="40.8" width="2.3" height="0.9" fill="#e8d8b0" opacity="0.6"/><rect x="575.6" y="46.5" width="1.6" height="1.2" fill="#e8d8b0" opacity="0.73"/><rect x="551" y="37.5" width="36" height="18" fill="#2c3c82"/><rect x="553" y="40" width="1.4" height="10" fill="#e89070" opacity="0.7"/><rect x="558" y="40" width="1.4" height="10" fill="#e89070" opacity="0.7"/><rect x="569" y="40" width="1.4" height="10" fill="#e89070" opacity="0.7"/><rect x="578" y="40" width="1.4" height="10" fill="#e89070" opacity="0.7"/><rect x="584" y="40" width="1.4" height="10" fill="#e89070" opacity="0.7"/><rect x="563" y="37" width="9" height="2" fill="#e8ecf8" opacity="0.8"/><rect x="600.3" y="1.3" width="46.3" height="54" fill="#2048b0"/><rect x="637" y="1.3" width="9.6" height="54" fill="#2c5cbc"/><rect x="602.5" y="1.5" width="1.0" height="53" fill="#4f88e4" opacity="0.75"/><rect x="605.6" y="1.5" width="1.0" height="53" fill="#4f88e4" opacity="0.75"/><rect x="608.7" y="1.5" width="1.0" height="53" fill="#4f88e4" opacity="0.75"/><rect x="611.8" y="1.5" width="1.0" height="53" fill="#4f88e4" opacity="0.75"/><rect x="614.9" y="1.5" width="1.0" height="53" fill="#4f88e4" opacity="0.75"/><rect x="618.0" y="1.5" width="1.0" height="53" fill="#4f88e4" opacity="0.75"/><rect x="621.1" y="1.5" width="1.0" height="53" fill="#4f88e4" opacity="0.75"/><rect x="624.2" y="1.5" width="1.0" height="53" fill="#4f88e4" opacity="0.75"/><rect x="627.3" y="1.5" width="1.0" height="53" fill="#4f88e4" opacity="0.75"/><rect x="630.4" y="1.5" width="1.0" height="53" fill="#4f88e4" opacity="0.75"/><rect x="633.5" y="1.5" width="1.0" height="53" fill="#4f88e4" opacity="0.75"/><rect x="636.6" y="1.5" width="1.0" height="53" fill="#4f88e4" opacity="0.75"/><rect x="627.1" y="8.9" width="1.3" height="0.9" fill="#f8d878" opacity="0.73"/><rect x="618.3" y="43.7" width="1.6" height="1.1" fill="#f8d878" opacity="0.87"/><rect x="633.0" y="29.5" width="1.4" height="1.2" fill="#f8d878" opacity="0.79"/><rect x="628.6" y="34.9" width="1.6" height="1.2" fill="#f8d878" opacity="0.81"/><rect x="633.7" y="38.3" width="1.7" height="1.1" fill="#e8a848" opacity="0.77"/><rect x="621.1" y="38.4" width="1.4" height="1.2" fill="#e8a848" opacity="0.78"/><rect x="628.9" y="30.7" width="1.7" height="1.2" fill="#e8a848" opacity="0.71"/><rect x="631.5" y="30.4" width="1.4" height="1.1" fill="#f0c050" opacity="0.72"/><rect x="601.2" y="11.0" width="1.6" height="0.8" fill="#f0c050" opacity="0.75"/><rect x="631.6" y="39.1" width="1.3" height="0.8" fill="#f0c050" opacity="0.98"/><rect x="634.0" y="9.8" width="1.4" height="1.1" fill="#f8d878" opacity="0.79"/><rect x="626.4" y="43.2" width="1.4" height="1.3" fill="#f8d878" opacity="0.75"/><rect x="604.1" y="31.7" width="1.6" height="0.9" fill="#e8a848" opacity="0.8"/><rect x="618.1" y="9.5" width="1.6" height="1.3" fill="#f0c050" opacity="0.93"/><rect x="629.5" y="22.4" width="1.4" height="0.8" fill="#f8d878" opacity="0.94"/><rect x="628.3" y="7.3" width="1.6" height="0.9" fill="#e8a848" opacity="0.84"/><rect x="616.9" y="40.5" width="1.6" height="1.2" fill="#f8d878" opacity="0.87"/><rect x="605.7" y="11.9" width="1.5" height="0.9" fill="#e8a848" opacity="0.84"/><rect x="626.5" y="26.1" width="1.5" height="1.0" fill="#f0c050" opacity="0.71"/><rect x="625.6" y="13.2" width="1.4" height="1.1" fill="#e8a848" opacity="0.84"/><rect x="607.5" y="11.5" width="1.8" height="1.3" fill="#f8d878" opacity="0.74"/><rect x="603.1" y="24.3" width="1.4" height="1.2" fill="#e8a848" opacity="0.99"/><rect x="628.0" y="17.2" width="1.4" height="1.2" fill="#f0c050" opacity="0.93"/><rect x="611.7" y="16.5" width="1.4" height="0.9" fill="#f0c050" opacity="0.98"/><rect x="630.8" y="24.2" width="1.3" height="0.9" fill="#e8a848" opacity="0.92"/><rect x="630.6" y="34.5" width="1.5" height="1.0" fill="#f0c050" opacity="0.73"/><rect x="603.4" y="20.8" width="1.5" height="0.9" fill="#e8a848" opacity="0.85"/><rect x="616.3" y="42.2" width="1.8" height="1.0" fill="#e8a848" opacity="0.81"/><rect x="616.2" y="45.7" width="1.8" height="1.1" fill="#f0c050" opacity="0.93"/><rect x="604.0" y="45.4" width="1.3" height="1.2" fill="#e8a848" opacity="0.74"/><rect x="616.8" y="31.5" width="1.4" height="0.8" fill="#e8a848" opacity="0.93"/><rect x="615.9" y="6.9" width="1.4" height="0.8" fill="#e8a848" opacity="0.72"/><rect x="610.8" y="38.3" width="1.3" height="0.9" fill="#f0c050" opacity="0.79"/><rect x="628.8" y="30.8" width="1.4" height="0.9" fill="#f8d878" opacity="0.93"/><path d="M646.5,55 L646.5,40 C650,36 656,36 660,40 L662,55 Z" fill="#1a3070"/><polygon points="720.3,9 733.5,9 733.5,1.3 761.5,1.3 761.5,55 720.3,55" fill="#15275e"/><rect x="734" y="1.5" width="27" height="11" fill="#5a4a64" opacity="0.85"/><rect x="744.8" y="5.0" width="1.3" height="0.9" fill="#f0a050" opacity="0.63"/><rect x="756.7" y="10.5" width="1.8" height="1.0" fill="#f0a050" opacity="0.93"/><rect x="748.9" y="4.6" width="1.6" height="1.2" fill="#f0a050" opacity="0.86"/><rect x="756.1" y="6.4" width="1.9" height="1.1" fill="#f0a050" opacity="0.61"/><rect x="746.8" y="9.3" width="1.8" height="1.3" fill="#e08848" opacity="0.71"/><rect x="751.8" y="9.6" width="1.7" height="1.1" fill="#f0a050" opacity="0.89"/><rect x="754.9" y="7.2" width="1.2" height="1.2" fill="#f0a050" opacity="0.91"/><rect x="756.9" y="4.9" width="1.9" height="1.2" fill="#e08848" opacity="0.93"/><rect x="741.9" y="7.6" width="1.5" height="0.9" fill="#f0a050" opacity="0.6"/><rect x="750.5" y="8.8" width="1.8" height="1.1" fill="#f0a050" opacity="0.89"/><rect x="749.8" y="2.5" width="1.9" height="0.9" fill="#f0a050" opacity="0.88"/><rect x="740.8" y="7.9" width="1.5" height="1.2" fill="#f0a050" opacity="0.68"/><rect x="751.4" y="8.0" width="1.2" height="1.2" fill="#f0a050" opacity="0.9"/><rect x="755.2" y="3.3" width="2.0" height="1.2" fill="#f0a050" opacity="0.88"/><rect x="754.4" y="10.8" width="2.0" height="1.0" fill="#e08848" opacity="0.87"/><rect x="755.0" y="3.9" width="1.5" height="0.9" fill="#f0a050" opacity="0.64"/><rect x="723" y="15" width="37" height="0.7" fill="#34467e" opacity="0.8"/><rect x="723" y="18" width="37" height="0.7" fill="#34467e" opacity="0.8"/><rect x="723" y="21" width="37" height="0.7" fill="#34467e" opacity="0.8"/><rect x="723" y="24" width="37" height="0.7" fill="#34467e" opacity="0.8"/><rect x="723" y="27" width="37" height="0.7" fill="#34467e" opacity="0.8"/><rect x="723" y="30" width="37" height="0.7" fill="#34467e" opacity="0.8"/><rect x="723" y="33" width="37" height="0.7" fill="#34467e" opacity="0.8"/><rect x="723" y="36" width="37" height="0.7" fill="#34467e" opacity="0.8"/><rect x="723" y="39" width="37" height="0.7" fill="#34467e" opacity="0.8"/><rect x="764.5" y="26.5" width="4" height="18" fill="#d070b4" opacity="0.9"/><rect x="774" y="1.3" width="32" height="54" fill="#4a5274"/><rect x="774" y="1.3" width="11.5" height="54" fill="#6a7290"/><rect x="775" y="3" width="10" height="16" fill="#dcdcd6" opacity="0.9"/><rect x="790.5" y="2.3" width="10.5" height="10.5" fill="#f8d648"/><rect x="786" y="2" width="4" height="11" fill="#7a7c8c"/><rect x="801" y="2" width="4.5" height="11" fill="#8a8478"/><rect x="799.8" y="40.2" width="1.4" height="1.0" fill="#fff0c0" opacity="0.8"/><rect x="776.5" y="38.9" width="2.2" height="1.0" fill="#d8dcec" opacity="0.98"/><rect x="783.7" y="32.3" width="2.5" height="1.0" fill="#f0d070" opacity="0.89"/><rect x="783.7" y="39.3" width="2.1" height="0.9" fill="#fff0c0" opacity="0.79"/><rect x="786.7" y="39.5" width="2.2" height="0.9" fill="#f0d070" opacity="0.82"/><rect x="801.0" y="33.1" width="2.4" height="1.1" fill="#fff0c0" opacity="0.78"/><rect x="790.9" y="14.7" width="1.6" height="1.3" fill="#e8e4d8" opacity="0.81"/><rect x="798.0" y="36.9" width="1.8" height="0.9" fill="#fff0c0" opacity="0.69"/><rect x="799.7" y="42.8" width="1.9" height="1.0" fill="#fff0c0" opacity="0.97"/><rect x="780.6" y="22.8" width="1.8" height="1.2" fill="#e8e4d8" opacity="0.8"/><rect x="796.1" y="14.3" width="2.4" height="1.1" fill="#d8dcec"/><rect x="790.7" y="37.1" width="1.6" height="1.3" fill="#fff0c0" opacity="0.95"/><rect x="785.1" y="40.8" width="1.6" height="0.8" fill="#e8e4d8" opacity="0.8"/><rect x="801.1" y="30.2" width="1.6" height="1.1" fill="#fff0c0" opacity="0.77"/><rect x="791.9" y="21.5" width="1.7" height="1.0" fill="#d8dcec" opacity="0.62"/><rect x="796.7" y="37.3" width="2.5" height="0.9" fill="#e8e4d8" opacity="0.82"/><rect x="781.5" y="37.8" width="1.7" height="0.9" fill="#e8e4d8" opacity="0.99"/><rect x="795.2" y="17.2" width="2.0" height="1.1" fill="#e8e4d8" opacity="0.71"/><rect x="798.5" y="40.8" width="1.5" height="1.3" fill="#d8dcec" opacity="0.95"/><rect x="799.3" y="40.0" width="2.1" height="1.0" fill="#f0d070" opacity="0.78"/><rect x="792.9" y="42.9" width="1.8" height="1.2" fill="#e8e4d8"/><rect x="781.4" y="39.2" width="1.8" height="1.0" fill="#f0d070" opacity="0.66"/><rect x="781.1" y="16.5" width="1.6" height="1.0" fill="#f0d070" opacity="0.67"/><rect x="788.4" y="26.8" width="2.6" height="1.0" fill="#f0d070" opacity="0.79"/><rect x="780.5" y="31.2" width="1.6" height="0.9" fill="#fff0c0" opacity="0.74"/><rect x="785.7" y="16.0" width="1.5" height="1.2" fill="#f0d070" opacity="0.74"/><rect x="794.3" y="25.4" width="1.6" height="1.2" fill="#fff0c0" opacity="0.62"/><rect x="797.0" y="27.8" width="2.0" height="1.2" fill="#d8dcec" opacity="0.98"/><rect x="792.4" y="18.5" width="2.2" height="1.2" fill="#fff0c0" opacity="0.98"/><rect x="779.1" y="24.6" width="2.4" height="1.2" fill="#e8e4d8" opacity="0.74"/><rect x="801.5" y="29.9" width="1.9" height="0.9" fill="#fff0c0" opacity="0.65"/><rect x="800.3" y="42.3" width="2.1" height="1.2" fill="#d8dcec" opacity="0.8"/><rect x="785.2" y="40.0" width="1.8" height="1.1" fill="#f0d070" opacity="0.86"/><rect x="788.4" y="23.6" width="1.9" height="1.1" fill="#f0d070" opacity="0.61"/><rect x="797.4" y="15.9" width="2.4" height="1.1" fill="#fff0c0" opacity="0.71"/><rect x="784.3" y="37.8" width="1.6" height="1.1" fill="#fff0c0" opacity="0.63"/><rect x="780.9" y="35.4" width="1.6" height="1.0" fill="#e8e4d8" opacity="0.62"/><rect x="782.4" y="35.3" width="2.3" height="1.3" fill="#e8e4d8" opacity="0.82"/><rect x="800.8" y="16.6" width="2.5" height="1.0" fill="#e8e4d8" opacity="0.62"/><rect x="788.9" y="35.2" width="1.9" height="1.1" fill="#e8e4d8" opacity="0.84"/><rect x="802.4" y="15.1" width="1.5" height="0.9" fill="#fff0c0" opacity="0.73"/><rect x="794.4" y="18.9" width="2.0" height="0.9" fill="#e8e4d8" opacity="0.84"/><rect x="793.8" y="42.1" width="1.8" height="1.3" fill="#d8dcec" opacity="0.73"/><rect x="786.5" y="26.9" width="2.0" height="0.8" fill="#e8e4d8" opacity="0.67"/><rect x="800.0" y="37.0" width="2.2" height="1.1" fill="#d8dcec" opacity="0.81"/><rect x="794.1" y="15.0" width="1.9" height="1.2" fill="#fff0c0" opacity="0.78"/><rect x="799.7" y="31.4" width="1.8" height="1.0" fill="#e8e4d8" opacity="0.94"/><rect x="800.6" y="30.3" width="1.6" height="0.9" fill="#d8dcec" opacity="0.66"/><rect x="793.1" y="28.5" width="2.5" height="1.2" fill="#fff0c0" opacity="0.94"/><rect x="785.1" y="34.5" width="1.6" height="1.0" fill="#d8dcec" opacity="0.73"/><rect x="788.4" y="30.8" width="2.6" height="0.9" fill="#d8dcec" opacity="0.68"/><rect x="802.8" y="20.1" width="2.2" height="1.1" fill="#fff0c0"/><rect x="794.3" y="23.2" width="2.3" height="0.9" fill="#f0d070" opacity="0.66"/><rect x="799.0" y="28.2" width="1.7" height="1.3" fill="#fff0c0" opacity="0.8"/><rect x="798.2" y="15.3" width="1.9" height="0.8" fill="#d8dcec" opacity="0.96"/><rect x="791.4" y="26.4" width="2.5" height="0.8" fill="#e8e4d8" opacity="0.64"/><rect x="782.7" y="17.3" width="2.4" height="1.0" fill="#f0d070" opacity="0.63"/><rect x="787.6" y="24.7" width="1.4" height="1.2" fill="#f0d070" opacity="0.69"/><rect x="793.3" y="22.1" width="1.8" height="1.3" fill="#d8dcec" opacity="0.91"/><rect x="794.4" y="32.8" width="1.7" height="1.1" fill="#f0d070" opacity="0.76"/><rect x="808" y="30" width="10" height="25" fill="#28347c"/><rect x="823" y="24" width="17.5" height="31" fill="#2a2c62"/><rect x="837.3" y="32.6" width="1.5" height="1.2" fill="#f0c080" opacity="0.92"/><rect x="828.1" y="34.6" width="2.3" height="1.2" fill="#f0c080" opacity="0.74"/><rect x="835.9" y="38.7" width="1.7" height="1.1" fill="#e8a860" opacity="0.79"/><rect x="825.2" y="38.6" width="2.3" height="0.8" fill="#e8a860" opacity="0.84"/><rect x="836.3" y="26.3" width="1.7" height="1.2" fill="#f8e0a0" opacity="0.67"/><rect x="825.9" y="38.0" width="1.5" height="0.9" fill="#f8e0a0" opacity="0.7"/><rect x="826.3" y="39.5" width="1.6" height="1.2" fill="#f0c080" opacity="0.7"/><rect x="836.8" y="28.5" width="2.3" height="1.1" fill="#f0c080" opacity="0.85"/><rect x="831.5" y="38.7" width="1.8" height="0.8" fill="#e8a860" opacity="0.92"/><rect x="833.5" y="36.9" width="1.6" height="1.0" fill="#f8e0a0" opacity="0.98"/><rect x="836.9" y="27.6" width="2.1" height="1.1" fill="#e8a860" opacity="0.96"/><rect x="836.8" y="39.4" width="1.9" height="1.3" fill="#f8e0a0" opacity="0.75"/><rect x="846" y="33" width="10" height="22" fill="#2c3878"/><rect x="849" y="34" width="5" height="6" fill="#e8c070" opacity="0.9"/><rect x="868" y="30" width="12" height="25" fill="#2a3678"/><rect x="874.0" y="38.6" width="1.9" height="0.9" fill="#f0c080" opacity="0.58"/><rect x="877.6" y="40.8" width="1.4" height="1.1" fill="#ffd8d0" opacity="0.59"/><rect x="873.9" y="34.1" width="1.2" height="0.9" fill="#f0c080" opacity="0.88"/><rect x="873.1" y="34.7" width="2.1" height="1.3" fill="#ffd8d0" opacity="0.64"/><rect x="877.4" y="33.0" width="2.3" height="1.1" fill="#f0c080" opacity="0.58"/><rect x="874.4" y="34.0" width="2.4" height="0.9" fill="#f0c080" opacity="0.61"/><rect x="900.6" y="22" width="18.8" height="33" fill="#2e3064"/><rect x="908" y="23" width="11" height="2.6" fill="#e8a85c"/><rect x="904.4" y="27.1" width="1.9" height="1.1" fill="#f0b870" opacity="0.8"/><rect x="911.9" y="39.9" width="2.4" height="1.1" fill="#c8d0f0" opacity="0.8"/><rect x="905.3" y="40.6" width="1.5" height="0.9" fill="#c8d0f0" opacity="0.81"/><rect x="909.2" y="31.3" width="2.1" height="1.1" fill="#f0b870" opacity="0.51"/><rect x="904.2" y="28.7" width="2.2" height="0.9" fill="#f0b870" opacity="0.62"/><rect x="915.1" y="33.7" width="1.7" height="1.3" fill="#e8d0a0" opacity="0.95"/><rect x="901.4" y="34.9" width="2.1" height="1.0" fill="#c8d0f0" opacity="0.9"/><rect x="909.2" y="32.4" width="2.3" height="0.8" fill="#f0b870" opacity="0.95"/><rect x="916.9" y="35.3" width="2.1" height="0.9" fill="#c8d0f0" opacity="0.66"/><rect x="903.1" y="39.8" width="1.8" height="1.1" fill="#f0b870" opacity="0.57"/><rect x="903.4" y="34.8" width="2.2" height="0.9" fill="#c8d0f0" opacity="0.76"/><rect x="902.5" y="33.4" width="1.9" height="1.2" fill="#c8d0f0" opacity="0.53"/><rect x="907.8" y="29.6" width="2.2" height="0.9" fill="#e8d0a0" opacity="0.61"/><rect x="902.5" y="33.2" width="1.8" height="1.0" fill="#f0b870" opacity="0.6"/><rect x="919.4" y="33.6" width="16" height="21" fill="#2a3474"/><rect x="921" y="35" width="12" height="1.6" fill="#e0e4f4" opacity="0.8"/></g>
<rect x="480" y="36" width="478" height="20" fill="url(#gBand)" mask="url(#mBand)"/>
<rect x="330" y="46" width="628" height="10" fill="url(#gBot)"/>
<rect x="300" y="1" width="240" height="55" fill="url(#fadeL)"/>
</g>
<rect x="0" y="54" width="957.6" height="1.6" fill="#0b2d78"/>
<rect x="0" y="55.3" width="957.6" height="4.1" fill="#8ec03e"/>
<rect x="67.2" y="8" width="1.3" height="43.5" fill="#8a9ac8"/>
<rect x="115.5" y="8" width="1.3" height="43.5" fill="#8a9ac8"/>
<!-- globe -->
<clipPath id="gc"><ellipse cx="91.8" cy="30.3" rx="20" ry="21"/></clipPath>
<g clip-path="url(#gc)" filter="url(#b0)">
<ellipse cx="91.8" cy="30.3" rx="20" ry="21" fill="#b4c0e0"/>
<path d="M76.3,29 L76.8,35 L78.5,40.5 L81,45.5 L83.5,49 L84,52 L113,52 L113,25 L100,25 L90,28 L80,28 Z" fill="#053294"/>
<polygon points="75.5,22.0 77.0,20.5 80.5,21.0 81.5,18.5 83.5,17.2 87.1,17.0 91.1,17.5 94.1,18.2 95.6,19.8 98.1,20.0 100.6,19.2 103.1,17.5 105.1,17.0 107.6,18.5 109.1,21.0 110.6,23.5 111.1,25.5 109.6,27.1 108.1,29.1 106.6,29.6 105.1,28.9 104.6,30.6 103.1,32.1 102.1,33.3 103.3,35.6 104.6,38.1 105.3,41.6 105.1,43.6 103.9,44.1 102.6,42.1 101.6,40.6 100.1,41.6 99.1,43.3 97.6,41.6 96.6,39.1 95.6,37.6 94.1,36.6 93.1,38.6 92.1,36.1 90.6,33.9 88.9,35.1 87.6,36.6 86.5,34.6 85.8,32.1 84.5,31.1 82.5,30.6 81.5,31.6 80.0,31.1 78.5,33.1 77.0,32.1 76.0,29.6 75.5,26.0" fill="#6fa84e"/>
<polygon points="106.1,31.6 107.3,32.1 107.9,34.6 106.9,35.6 106.3,33.6" fill="#6fa84e"/>
<polygon points="95.1,50.1 99.1,47.6 104.1,45.6 107.6,43.1 108.6,44.6 105.1,47.6 100.1,50.6 96.6,51.6" fill="#c0c9e4"/>
</g>
<!-- IASLC logo -->
<g stroke="#fff" fill="none" stroke-width="0.8" stroke-linecap="round">
<line x1="46.8" y1="38.3" x2="62" y2="38.3" stroke-width="1.3"/>
<line x1="13.6" y1="38.3" x2="17" y2="38.3" stroke-width="1"/>
<line x1="17.5" y1="38.3" x2="29" y2="38.3" stroke-width="2.2" stroke-dasharray="0.1 2.6"/>
<line x1="17" y1="38.3" x2="30.5" y2="38.3" stroke-width="0.8"/>
<path d="M38.7,29.2 C33.5,29.2 30.8,33.5 30.8,38.5 C30.8,42 31.5,45 32.2,46.6 C34,47.6 36.8,46.8 38.2,44.6 C38.5,44 38.9,44 39.2,44.6 C40.6,46.8 43.4,47.6 45.2,46.6 C45.9,45 46.6,42 46.6,38.5 C46.6,33.5 43.9,29.2 38.7,29.2 Z" stroke-width="0.9"/>
<path d="M37.2,31 C34.5,32 33.2,35 33.2,38.5 C33.2,41 33.6,43 34.2,44.2"/>
<path d="M40.2,31 C42.9,32 44.2,35 44.2,38.5 C44.2,41 43.8,43 43.2,44.2"/>
<line x1="37.4" y1="31" x2="37.4" y2="42.5"/><line x1="40" y1="31" x2="40" y2="42.5"/>
<path d="M34.5,43.5 L37,42 M43,43.5 L40.4,42 M35,41 L42.5,41" stroke-width="0.6"/>
</g>
</svg>

<div style="position:absolute;left:14.8px;top:10.9px;font-family:'Liberation Serif',serif;font-size:16.4px;color:#fff;line-height:16px;letter-spacing:0.1px;">IASLC</div>
<div class="bt" style="top:7.1px;letter-spacing:0.48px;">2025 Asia</div>
<div class="bt" style="top:22px;letter-spacing:0.15px;">Conference</div>
<div class="bt" style="top:36.2px;letter-spacing:0.08px;">on Lung Cancer</div>
<div class="dt" style="left:658.3px;letter-spacing:0.09px;">OCTOBER 9-11, 2025</div>
<div class="dt" style="left:775.5px;font-weight:normal;">|</div>
<div class="dt" style="left:785.5px;letter-spacing:0.31px;">HO CHI MINH CITY, VIETNAM</div>
<div id="title">Clinical Outcomes/Side effects  between FLAURA2 and MARIPOSA</div>
<svg width="960" height="539" viewBox="0 0 960 539" style="position:absolute;left:0;top:0"><rect x="95.2" y="106" width="753.8" height="27" fill="#032b8c"/>
<rect x="95.2" y="136" width="753.8" height="27.1" fill="#cbcdd9"/>
<rect x="95.2" y="165" width="753.8" height="26.6" fill="#e7e8ed"/>
<rect x="95.2" y="193.5" width="753.8" height="159.0" fill="#cbcdd9"/>
<rect x="95.2" y="354" width="753.8" height="28.3" fill="#e7e8ed"/>
<rect x="95.2" y="383.7" width="753.8" height="43.6" fill="#cbcdd9"/>
<rect x="95.2" y="429" width="753.8" height="62.6" fill="#e7e8ed"/>
<rect x="95.2" y="493.5" width="753.8" height="27.8" fill="#cbcdd9"/>
<rect x="256" y="106" width="2" height="415.3" fill="#fff" fill-opacity="0.6"/>
<rect x="542" y="106" width="2" height="415.3" fill="#fff" fill-opacity="0.6"/></svg>
<div class="h" style="left:258px;width:284px;">FLAURA2</div>
<div class="h" style="left:544px;width:305px;">MARIPOSA</div>
<div class="t" style="left:102px;top:139.22px;">PFS</div>
<div class="t" style="left:264px;top:139.22px;">25.5m</div>
<div class="t" style="left:550.1px;top:139.22px;">23.7m</div>
<div class="t" style="left:102px;top:168.12px;">OS</div>
<div class="t" style="left:264px;top:168.12px;">47.5m HR 0.77</div>
<div class="t" style="left:550.1px;top:168.12px;">Not reached HR 0.75</div>
<div class="t" style="left:102px;top:196.82px;">Side effects
(all grades)</div>
<div class="t" style="left:264px;top:196.82px;">Diarrhea 46% (G3 3%)
Rash 30% (G1 &lt;1%)
Paronychia 26% (G1 &lt;1%)
<span class="r">Neutrophil count decreased 41% (G3
24%)
Anemia 48% (G3 20%)</span>
Increased creatinine 14%</div>
<div class="t" style="left:550.1px;top:196.82px;">Diarrhea 32% (G3 2%)
<span class="r">Rash 64% (G3 15%)
Paronychia 69% (G3 11%)
Infusion reaction 65% (G3 6%)
Peripheral edema 38% (G3 2%)
Venous thromboembolism 40%</span>
Anemia 27%  (G3 4%)</div>
<div class="t" style="left:102px;top:358.32px;">Discontinuation rate</div>
<div class="t" style="left:264px;top:358.32px;">Osi (11%) carbo/cis (17%) pem (43%)</div>
<div class="t" style="left:550.1px;top:358.32px;">35% for any agent</div>
<div class="t" style="left:102px;top:387.32px;">Supportive care</div>
<div class="t" style="left:264px;top:387.32px;">Emollient cream, steroid creams
Cytopenia/mouth washes</div>
<div class="t" style="left:550.1px;top:387.32px;">Emollient cream, steroid creams
Prophylactic antibiotics, <span class="r">anticoagulant</span></div>
<div class="t" style="left:102px;top:432.22px;">Treatment schedule</div>
<div class="t" style="left:264px;top:432.22px;">Daily oral table
Iv infusion every 3 weeks</div>
<div class="t" style="left:550.1px;top:432.22px;">Daily oral tablet
Infusion per week for first 4 weeks
Once every 2 weeks thereafter</div>
<div class="t" style="left:102px;top:498.32px;">Cost</div>
<div class="t" style="left:264px;top:498.32px;">$$</div>
<div class="t" style="left:550.1px;top:498.32px;">$$$</div>
<div id="redge"></div>
<div id="foot">Modified from Tan D WCLC 2025</div>
</body></html>
